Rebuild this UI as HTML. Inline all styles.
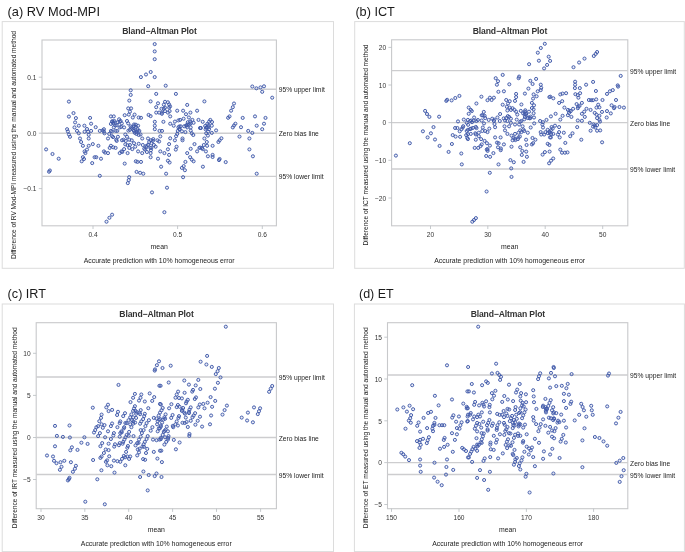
<!DOCTYPE html>
<html><head><meta charset="utf-8"><title>Bland-Altman Plots</title>
<style>
html,body{margin:0;padding:0;background:#fff;}
svg{display:block;font-family:"Liberation Sans", "NanumGothic", sans-serif;}
.pt{font-size:13.4px;fill:#1a1a1a;}
.bt{font-size:8.6px;font-weight:bold;fill:#333;text-anchor:middle;}
.sm{font-size:6.9px;fill:#222;}
.rl{font-size:6.7px;fill:#222;}
.yl{font-size:6.6px;fill:#222;}
.tk{font-size:6.6px;fill:#333;}
.fr{fill:#fff;stroke:#dcdcdc;stroke-width:1;}
.bx{fill:#fff;stroke:#c8c9cb;stroke-width:1.1;}
.ln{stroke:#cdcdcf;stroke-width:1.4;}
.tm{stroke:#b8bcc0;stroke-width:0.8;}
.p circle{fill:rgba(66,92,171,0.10);stroke:#405aaa;stroke-width:0.95;}
</style></head><body>
<svg width="685" height="552" viewBox="0 0 685 552">
<rect x="0" y="0" width="685" height="552" fill="#fff"/>

<g id="panel-a">
<text class="pt" x="7.6" y="15.6" textLength="92.4" lengthAdjust="spacingAndGlyphs">(a) RV Mod-MPI</text>
<rect class="fr" x="2.2" y="21.6" width="331.3" height="246.7"/>
<rect class="bx" x="42" y="40" width="234.4" height="185.8"/>
<text class="bt" x="159.5" y="34.3" textLength="74.5" lengthAdjust="spacing">Bland−Altman Plot</text>
<line class="ln" x1="42" y1="89.2" x2="276.4" y2="89.2"/>
<text class="rl" x="278.7" y="92.2">95% upper limit</text>
<line class="ln" x1="42" y1="133.2" x2="276.4" y2="133.2"/>
<text class="rl" x="278.7" y="136.2">Zero bias line</text>
<line class="ln" x1="42" y1="176.4" x2="276.4" y2="176.4"/>
<text class="rl" x="278.7" y="179.4">95% lower limit</text>
<line class="tm" x1="93" y1="225.8" x2="93" y2="229.0"/>
<text class="tk" text-anchor="middle" x="93" y="237.3">0.4</text>
<line class="tm" x1="177.6" y1="225.8" x2="177.6" y2="229.0"/>
<text class="tk" text-anchor="middle" x="177.6" y="237.3">0.5</text>
<line class="tm" x1="262.3" y1="225.8" x2="262.3" y2="229.0"/>
<text class="tk" text-anchor="middle" x="262.3" y="237.3">0.6</text>
<line class="tm" x1="38.8" y1="77.2" x2="42" y2="77.2"/>
<text class="tk" text-anchor="end" x="36.5" y="79.9">0.1</text>
<line class="tm" x1="38.8" y1="133.2" x2="42" y2="133.2"/>
<text class="tk" text-anchor="end" x="36.5" y="135.9">0.0</text>
<line class="tm" x1="38.8" y1="188.6" x2="42" y2="188.6"/>
<text class="tk" text-anchor="end" x="36.5" y="191.3">−0.1</text>
<text class="sm" text-anchor="middle" x="159.2" y="249.3">mean</text>
<text class="sm" text-anchor="middle" x="159.2" y="262.9">Accurate prediction with 10% homogeneous error</text>
<text class="yl" text-anchor="middle" transform="translate(15.9,145.0) rotate(-90)" textLength="228" lengthAdjust="spacing">Difference of RV Mod-MPI measured using the manual and automated method</text>
<g class="p">
<circle cx="68.9" cy="101.6" r="1.55"/>
<circle cx="73.5" cy="113.1" r="1.55"/>
<circle cx="68.9" cy="116.6" r="1.55"/>
<circle cx="75.9" cy="118.1" r="1.55"/>
<circle cx="90.1" cy="117.9" r="1.55"/>
<circle cx="75.1" cy="122.4" r="1.55"/>
<circle cx="91.1" cy="123.7" r="1.55"/>
<circle cx="78.8" cy="125.7" r="1.55"/>
<circle cx="74.5" cy="127.4" r="1.55"/>
<circle cx="84.4" cy="125.7" r="1.55"/>
<circle cx="95.7" cy="127.2" r="1.55"/>
<circle cx="67.1" cy="129.2" r="1.55"/>
<circle cx="87.0" cy="129.0" r="1.55"/>
<circle cx="67.9" cy="131.5" r="1.55"/>
<circle cx="77.0" cy="130.9" r="1.55"/>
<circle cx="91.1" cy="130.9" r="1.55"/>
<circle cx="84.6" cy="131.8" r="1.55"/>
<circle cx="88.1" cy="131.8" r="1.55"/>
<circle cx="78.8" cy="133.3" r="1.55"/>
<circle cx="68.9" cy="134.5" r="1.55"/>
<circle cx="70.0" cy="136.8" r="1.55"/>
<circle cx="88.7" cy="134.8" r="1.55"/>
<circle cx="80.0" cy="138.5" r="1.55"/>
<circle cx="88.7" cy="138.5" r="1.55"/>
<circle cx="81.1" cy="142.0" r="1.55"/>
<circle cx="82.9" cy="145.8" r="1.55"/>
<circle cx="92.8" cy="144.1" r="1.55"/>
<circle cx="88.7" cy="145.8" r="1.55"/>
<circle cx="98.4" cy="145.8" r="1.55"/>
<circle cx="87.0" cy="149.6" r="1.55"/>
<circle cx="84.6" cy="151.4" r="1.55"/>
<circle cx="85.4" cy="153.1" r="1.55"/>
<circle cx="82.9" cy="157.2" r="1.55"/>
<circle cx="84.0" cy="159.0" r="1.55"/>
<circle cx="81.7" cy="161.3" r="1.55"/>
<circle cx="46.1" cy="149.4" r="1.55"/>
<circle cx="52.5" cy="154.0" r="1.55"/>
<circle cx="58.7" cy="158.7" r="1.55"/>
<circle cx="94.6" cy="157.2" r="1.55"/>
<circle cx="96.3" cy="157.2" r="1.55"/>
<circle cx="101.0" cy="158.7" r="1.55"/>
<circle cx="92.2" cy="163.1" r="1.55"/>
<circle cx="99.8" cy="130.9" r="1.55"/>
<circle cx="102.7" cy="130.4" r="1.55"/>
<circle cx="103.9" cy="129.2" r="1.55"/>
<circle cx="103.9" cy="131.5" r="1.55"/>
<circle cx="104.5" cy="133.3" r="1.55"/>
<circle cx="110.9" cy="116.4" r="1.55"/>
<circle cx="113.8" cy="116.4" r="1.55"/>
<circle cx="112.1" cy="121.6" r="1.55"/>
<circle cx="114.4" cy="121.0" r="1.55"/>
<circle cx="110.9" cy="123.9" r="1.55"/>
<circle cx="113.2" cy="123.4" r="1.55"/>
<circle cx="119.1" cy="119.3" r="1.55"/>
<circle cx="119.7" cy="121.6" r="1.55"/>
<circle cx="116.7" cy="125.1" r="1.55"/>
<circle cx="119.7" cy="127.4" r="1.55"/>
<circle cx="113.8" cy="127.4" r="1.55"/>
<circle cx="110.9" cy="130.9" r="1.55"/>
<circle cx="112.1" cy="131.5" r="1.55"/>
<circle cx="115.6" cy="130.9" r="1.55"/>
<circle cx="117.3" cy="130.9" r="1.55"/>
<circle cx="109.2" cy="133.9" r="1.55"/>
<circle cx="112.1" cy="136.2" r="1.55"/>
<circle cx="108.0" cy="138.5" r="1.55"/>
<circle cx="117.9" cy="136.8" r="1.55"/>
<circle cx="116.2" cy="139.7" r="1.55"/>
<circle cx="116.7" cy="140.9" r="1.55"/>
<circle cx="110.9" cy="145.8" r="1.55"/>
<circle cx="113.2" cy="147.3" r="1.55"/>
<circle cx="115.6" cy="147.9" r="1.55"/>
<circle cx="109.7" cy="147.9" r="1.55"/>
<circle cx="103.9" cy="151.4" r="1.55"/>
<circle cx="105.1" cy="152.6" r="1.55"/>
<circle cx="108.0" cy="153.1" r="1.55"/>
<circle cx="119.7" cy="153.1" r="1.55"/>
<circle cx="121.4" cy="151.4" r="1.55"/>
<circle cx="122.0" cy="140.3" r="1.55"/>
<circle cx="129.3" cy="100.6" r="1.55"/>
<circle cx="150.6" cy="101.4" r="1.55"/>
<circle cx="158.0" cy="103.3" r="1.55"/>
<circle cx="165.0" cy="101.8" r="1.55"/>
<circle cx="167.9" cy="102.3" r="1.55"/>
<circle cx="163.8" cy="104.7" r="1.55"/>
<circle cx="169.1" cy="104.4" r="1.55"/>
<circle cx="156.2" cy="107.2" r="1.55"/>
<circle cx="161.5" cy="108.8" r="1.55"/>
<circle cx="165.0" cy="107.6" r="1.55"/>
<circle cx="169.1" cy="107.6" r="1.55"/>
<circle cx="187.2" cy="104.9" r="1.55"/>
<circle cx="177.2" cy="110.7" r="1.55"/>
<circle cx="183.1" cy="110.7" r="1.55"/>
<circle cx="197.1" cy="110.7" r="1.55"/>
<circle cx="128.2" cy="108.4" r="1.55"/>
<circle cx="131.1" cy="108.4" r="1.55"/>
<circle cx="129.9" cy="111.7" r="1.55"/>
<circle cx="156.2" cy="112.6" r="1.55"/>
<circle cx="159.1" cy="112.6" r="1.55"/>
<circle cx="162.0" cy="112.6" r="1.55"/>
<circle cx="165.0" cy="111.1" r="1.55"/>
<circle cx="167.9" cy="112.6" r="1.55"/>
<circle cx="169.6" cy="111.1" r="1.55"/>
<circle cx="170.2" cy="116.4" r="1.55"/>
<circle cx="124.7" cy="115.2" r="1.55"/>
<circle cx="128.8" cy="114.6" r="1.55"/>
<circle cx="134.6" cy="114.6" r="1.55"/>
<circle cx="132.8" cy="117.5" r="1.55"/>
<circle cx="138.7" cy="117.5" r="1.55"/>
<circle cx="141.0" cy="117.8" r="1.55"/>
<circle cx="148.6" cy="114.9" r="1.55"/>
<circle cx="150.6" cy="116.1" r="1.55"/>
<circle cx="186.0" cy="114.2" r="1.55"/>
<circle cx="190.4" cy="112.6" r="1.55"/>
<circle cx="188.9" cy="117.5" r="1.55"/>
<circle cx="183.6" cy="118.7" r="1.55"/>
<circle cx="180.1" cy="119.9" r="1.55"/>
<circle cx="178.4" cy="120.4" r="1.55"/>
<circle cx="174.9" cy="121.6" r="1.55"/>
<circle cx="163.4" cy="121.8" r="1.55"/>
<circle cx="154.8" cy="121.8" r="1.55"/>
<circle cx="170.2" cy="123.7" r="1.55"/>
<circle cx="173.7" cy="125.7" r="1.55"/>
<circle cx="154.8" cy="125.7" r="1.55"/>
<circle cx="154.8" cy="129.2" r="1.55"/>
<circle cx="159.5" cy="130.9" r="1.55"/>
<circle cx="162.0" cy="130.9" r="1.55"/>
<circle cx="192.4" cy="119.9" r="1.55"/>
<circle cx="190.1" cy="121.6" r="1.55"/>
<circle cx="190.7" cy="123.4" r="1.55"/>
<circle cx="193.6" cy="122.8" r="1.55"/>
<circle cx="187.7" cy="124.5" r="1.55"/>
<circle cx="187.2" cy="127.4" r="1.55"/>
<circle cx="190.7" cy="127.4" r="1.55"/>
<circle cx="184.2" cy="126.3" r="1.55"/>
<circle cx="180.7" cy="126.3" r="1.55"/>
<circle cx="178.4" cy="127.4" r="1.55"/>
<circle cx="179.6" cy="129.2" r="1.55"/>
<circle cx="177.8" cy="130.9" r="1.55"/>
<circle cx="181.9" cy="131.3" r="1.55"/>
<circle cx="185.4" cy="132.1" r="1.55"/>
<circle cx="190.7" cy="130.6" r="1.55"/>
<circle cx="191.8" cy="133.3" r="1.55"/>
<circle cx="193.3" cy="135.0" r="1.55"/>
<circle cx="177.2" cy="133.9" r="1.55"/>
<circle cx="176.1" cy="136.2" r="1.55"/>
<circle cx="174.9" cy="140.3" r="1.55"/>
<circle cx="182.5" cy="138.5" r="1.55"/>
<circle cx="182.5" cy="140.3" r="1.55"/>
<circle cx="170.2" cy="138.3" r="1.55"/>
<circle cx="160.3" cy="136.4" r="1.55"/>
<circle cx="159.1" cy="141.5" r="1.55"/>
<circle cx="169.1" cy="144.1" r="1.55"/>
<circle cx="176.6" cy="146.7" r="1.55"/>
<circle cx="175.8" cy="149.6" r="1.55"/>
<circle cx="167.9" cy="149.3" r="1.55"/>
<circle cx="160.3" cy="151.4" r="1.55"/>
<circle cx="164.4" cy="153.1" r="1.55"/>
<circle cx="169.1" cy="154.9" r="1.55"/>
<circle cx="158.0" cy="158.7" r="1.55"/>
<circle cx="167.9" cy="160.7" r="1.55"/>
<circle cx="169.6" cy="162.5" r="1.55"/>
<circle cx="194.5" cy="144.1" r="1.55"/>
<circle cx="190.7" cy="148.8" r="1.55"/>
<circle cx="187.2" cy="153.1" r="1.55"/>
<circle cx="190.1" cy="157.2" r="1.55"/>
<circle cx="191.8" cy="159.6" r="1.55"/>
<circle cx="193.6" cy="161.3" r="1.55"/>
<circle cx="185.4" cy="161.9" r="1.55"/>
<circle cx="197.1" cy="151.4" r="1.55"/>
<circle cx="199.4" cy="147.9" r="1.55"/>
<circle cx="200.0" cy="128.0" r="1.55"/>
<circle cx="198.5" cy="119.9" r="1.55"/>
<circle cx="120.6" cy="121.0" r="1.55"/>
<circle cx="121.8" cy="123.4" r="1.55"/>
<circle cx="121.2" cy="126.9" r="1.55"/>
<circle cx="124.1" cy="127.4" r="1.55"/>
<circle cx="127.0" cy="121.0" r="1.55"/>
<circle cx="128.2" cy="123.4" r="1.55"/>
<circle cx="130.5" cy="126.3" r="1.55"/>
<circle cx="132.3" cy="128.6" r="1.55"/>
<circle cx="129.9" cy="129.8" r="1.55"/>
<circle cx="134.0" cy="124.5" r="1.55"/>
<circle cx="135.8" cy="126.9" r="1.55"/>
<circle cx="138.1" cy="125.7" r="1.55"/>
<circle cx="137.5" cy="129.2" r="1.55"/>
<circle cx="139.3" cy="130.9" r="1.55"/>
<circle cx="136.4" cy="132.1" r="1.55"/>
<circle cx="134.0" cy="130.9" r="1.55"/>
<circle cx="125.3" cy="134.5" r="1.55"/>
<circle cx="127.0" cy="136.8" r="1.55"/>
<circle cx="123.5" cy="139.7" r="1.55"/>
<circle cx="125.8" cy="140.9" r="1.55"/>
<circle cx="129.3" cy="139.7" r="1.55"/>
<circle cx="131.7" cy="140.3" r="1.55"/>
<circle cx="125.3" cy="144.4" r="1.55"/>
<circle cx="129.9" cy="145.0" r="1.55"/>
<circle cx="134.0" cy="143.2" r="1.55"/>
<circle cx="138.7" cy="143.8" r="1.55"/>
<circle cx="135.2" cy="146.7" r="1.55"/>
<circle cx="132.3" cy="149.1" r="1.55"/>
<circle cx="129.3" cy="147.9" r="1.55"/>
<circle cx="124.1" cy="149.1" r="1.55"/>
<circle cx="127.6" cy="153.1" r="1.55"/>
<circle cx="138.1" cy="151.4" r="1.55"/>
<circle cx="142.2" cy="153.1" r="1.55"/>
<circle cx="138.7" cy="135.0" r="1.55"/>
<circle cx="142.2" cy="138.5" r="1.55"/>
<circle cx="142.8" cy="145.0" r="1.55"/>
<circle cx="148.0" cy="138.5" r="1.55"/>
<circle cx="150.9" cy="140.3" r="1.55"/>
<circle cx="153.3" cy="139.1" r="1.55"/>
<circle cx="149.2" cy="142.0" r="1.55"/>
<circle cx="151.5" cy="143.2" r="1.55"/>
<circle cx="148.0" cy="145.0" r="1.55"/>
<circle cx="153.9" cy="145.0" r="1.55"/>
<circle cx="146.3" cy="147.3" r="1.55"/>
<circle cx="150.4" cy="147.9" r="1.55"/>
<circle cx="155.6" cy="146.7" r="1.55"/>
<circle cx="145.1" cy="149.6" r="1.55"/>
<circle cx="150.9" cy="150.2" r="1.55"/>
<circle cx="146.9" cy="152.0" r="1.55"/>
<circle cx="150.6" cy="153.1" r="1.55"/>
<circle cx="150.6" cy="157.2" r="1.55"/>
<circle cx="157.4" cy="140.3" r="1.55"/>
<circle cx="135.8" cy="161.3" r="1.55"/>
<circle cx="137.5" cy="161.9" r="1.55"/>
<circle cx="141.0" cy="161.9" r="1.55"/>
<circle cx="124.7" cy="163.6" r="1.55"/>
<circle cx="136.4" cy="133.9" r="1.55"/>
<circle cx="122.3" cy="152.0" r="1.55"/>
<circle cx="204.4" cy="101.4" r="1.55"/>
<circle cx="234.0" cy="103.5" r="1.55"/>
<circle cx="232.8" cy="107.2" r="1.55"/>
<circle cx="231.1" cy="110.7" r="1.55"/>
<circle cx="229.5" cy="116.4" r="1.55"/>
<circle cx="228.1" cy="117.8" r="1.55"/>
<circle cx="242.7" cy="117.9" r="1.55"/>
<circle cx="255.0" cy="116.4" r="1.55"/>
<circle cx="265.5" cy="117.9" r="1.55"/>
<circle cx="264.0" cy="123.7" r="1.55"/>
<circle cx="256.7" cy="125.7" r="1.55"/>
<circle cx="262.2" cy="129.2" r="1.55"/>
<circle cx="235.4" cy="123.7" r="1.55"/>
<circle cx="234.0" cy="125.5" r="1.55"/>
<circle cx="232.8" cy="127.4" r="1.55"/>
<circle cx="241.0" cy="127.2" r="1.55"/>
<circle cx="248.2" cy="130.9" r="1.55"/>
<circle cx="252.3" cy="132.9" r="1.55"/>
<circle cx="239.5" cy="136.6" r="1.55"/>
<circle cx="249.4" cy="138.5" r="1.55"/>
<circle cx="249.4" cy="149.4" r="1.55"/>
<circle cx="252.9" cy="156.3" r="1.55"/>
<circle cx="210.3" cy="119.9" r="1.55"/>
<circle cx="209.1" cy="121.6" r="1.55"/>
<circle cx="212.0" cy="122.0" r="1.55"/>
<circle cx="207.3" cy="123.9" r="1.55"/>
<circle cx="208.5" cy="125.1" r="1.55"/>
<circle cx="211.8" cy="125.7" r="1.55"/>
<circle cx="206.8" cy="127.4" r="1.55"/>
<circle cx="205.6" cy="129.4" r="1.55"/>
<circle cx="209.1" cy="129.2" r="1.55"/>
<circle cx="202.7" cy="121.8" r="1.55"/>
<circle cx="200.9" cy="128.0" r="1.55"/>
<circle cx="216.1" cy="130.4" r="1.55"/>
<circle cx="211.8" cy="132.9" r="1.55"/>
<circle cx="206.2" cy="133.3" r="1.55"/>
<circle cx="207.9" cy="135.6" r="1.55"/>
<circle cx="204.4" cy="138.5" r="1.55"/>
<circle cx="206.8" cy="142.0" r="1.55"/>
<circle cx="203.8" cy="145.0" r="1.55"/>
<circle cx="207.1" cy="145.8" r="1.55"/>
<circle cx="212.6" cy="145.8" r="1.55"/>
<circle cx="200.3" cy="147.6" r="1.55"/>
<circle cx="202.7" cy="149.1" r="1.55"/>
<circle cx="205.9" cy="151.4" r="1.55"/>
<circle cx="207.9" cy="156.3" r="1.55"/>
<circle cx="212.6" cy="154.9" r="1.55"/>
<circle cx="212.6" cy="157.0" r="1.55"/>
<circle cx="221.4" cy="138.3" r="1.55"/>
<circle cx="219.6" cy="140.3" r="1.55"/>
<circle cx="218.4" cy="142.0" r="1.55"/>
<circle cx="219.6" cy="159.0" r="1.55"/>
<circle cx="219.0" cy="160.1" r="1.55"/>
<circle cx="225.7" cy="162.1" r="1.55"/>
<circle cx="154.7" cy="44.1" r="1.55"/>
<circle cx="154.7" cy="51.4" r="1.55"/>
<circle cx="154.7" cy="59.2" r="1.55"/>
<circle cx="150.7" cy="72.0" r="1.55"/>
<circle cx="146.0" cy="74.5" r="1.55"/>
<circle cx="140.9" cy="77.1" r="1.55"/>
<circle cx="154.7" cy="77.1" r="1.55"/>
<circle cx="148.2" cy="86.2" r="1.55"/>
<circle cx="165.7" cy="85.7" r="1.55"/>
<circle cx="130.7" cy="90.3" r="1.55"/>
<circle cx="130.7" cy="94.9" r="1.55"/>
<circle cx="156.2" cy="93.9" r="1.55"/>
<circle cx="175.9" cy="93.9" r="1.55"/>
<circle cx="252.3" cy="86.5" r="1.55"/>
<circle cx="256.4" cy="88.3" r="1.55"/>
<circle cx="260.5" cy="87.4" r="1.55"/>
<circle cx="264.0" cy="86.3" r="1.55"/>
<circle cx="262.2" cy="91.8" r="1.55"/>
<circle cx="272.2" cy="97.7" r="1.55"/>
<circle cx="49.9" cy="170.5" r="1.55"/>
<circle cx="49.0" cy="171.7" r="1.55"/>
<circle cx="99.8" cy="175.8" r="1.55"/>
<circle cx="136.6" cy="171.9" r="1.55"/>
<circle cx="140.1" cy="172.8" r="1.55"/>
<circle cx="143.3" cy="173.7" r="1.55"/>
<circle cx="129.2" cy="177.2" r="1.55"/>
<circle cx="128.7" cy="180.1" r="1.55"/>
<circle cx="127.8" cy="183.1" r="1.55"/>
<circle cx="152.0" cy="192.4" r="1.55"/>
<circle cx="112.1" cy="214.7" r="1.55"/>
<circle cx="109.4" cy="217.8" r="1.55"/>
<circle cx="106.5" cy="221.7" r="1.55"/>
<circle cx="161.1" cy="166.7" r="1.55"/>
<circle cx="166.1" cy="173.7" r="1.55"/>
<circle cx="167.0" cy="187.7" r="1.55"/>
<circle cx="164.4" cy="212.2" r="1.55"/>
<circle cx="183.1" cy="177.2" r="1.55"/>
<circle cx="184.9" cy="170.2" r="1.55"/>
<circle cx="181.9" cy="167.9" r="1.55"/>
<circle cx="183.7" cy="166.1" r="1.55"/>
<circle cx="202.9" cy="166.7" r="1.55"/>
<circle cx="256.7" cy="173.7" r="1.55"/>
<circle cx="134.7" cy="132.8" r="1.55"/>
<circle cx="187.8" cy="122.2" r="1.55"/>
<circle cx="140.5" cy="134.4" r="1.55"/>
<circle cx="202.0" cy="148.0" r="1.55"/>
<circle cx="208.5" cy="127.2" r="1.55"/>
<circle cx="163.8" cy="108.7" r="1.55"/>
<circle cx="152.9" cy="140.8" r="1.55"/>
<circle cx="133.4" cy="129.8" r="1.55"/>
<circle cx="115.3" cy="125.4" r="1.55"/>
<circle cx="113.1" cy="137.1" r="1.55"/>
<circle cx="146.5" cy="145.9" r="1.55"/>
<circle cx="134.0" cy="126.2" r="1.55"/>
<circle cx="179.3" cy="126.5" r="1.55"/>
<circle cx="117.8" cy="122.2" r="1.55"/>
<circle cx="179.5" cy="129.3" r="1.55"/>
<circle cx="170.1" cy="106.4" r="1.55"/>
<circle cx="186.2" cy="125.4" r="1.55"/>
<circle cx="208.1" cy="131.6" r="1.55"/>
<circle cx="131.3" cy="127.5" r="1.55"/>
<circle cx="137.7" cy="130.7" r="1.55"/>
<circle cx="112.4" cy="121.2" r="1.55"/>
<circle cx="161.9" cy="113.8" r="1.55"/>
<circle cx="128.4" cy="130.6" r="1.55"/>
<circle cx="135.8" cy="124.7" r="1.55"/>
<circle cx="186.5" cy="125.6" r="1.55"/>
<circle cx="205.2" cy="126.0" r="1.55"/>
<circle cx="127.6" cy="145.2" r="1.55"/>
<circle cx="151.4" cy="147.8" r="1.55"/>
<circle cx="206.1" cy="127.7" r="1.55"/>
<circle cx="189.6" cy="124.2" r="1.55"/>
<circle cx="144.2" cy="148.6" r="1.55"/>
<circle cx="113.5" cy="122.2" r="1.55"/>
</g>
</g>
<g id="panel-b">
<text class="pt" x="355.4" y="15.6" textLength="39.4" lengthAdjust="spacingAndGlyphs">(b) ICT</text>
<rect class="fr" x="354.7" y="21.6" width="329.6" height="246.7"/>
<rect class="bx" x="391.6" y="39.8" width="236.2" height="186.0"/>
<text class="bt" x="510.0" y="34.3" textLength="74.5" lengthAdjust="spacing">Bland−Altman Plot</text>
<line class="ln" x1="391.6" y1="70.6" x2="627.8" y2="70.6"/>
<text class="rl" x="630.1" y="73.6">95% upper limit</text>
<line class="ln" x1="391.6" y1="122.6" x2="627.8" y2="122.6"/>
<text class="rl" x="630.1" y="125.6">Zero bias line</text>
<line class="ln" x1="391.6" y1="169" x2="627.8" y2="169"/>
<text class="rl" x="630.1" y="172.0">95% lower limit</text>
<line class="tm" x1="430.5" y1="225.8" x2="430.5" y2="229.0"/>
<text class="tk" text-anchor="middle" x="430.5" y="237.3">20</text>
<line class="tm" x1="487.8" y1="225.8" x2="487.8" y2="229.0"/>
<text class="tk" text-anchor="middle" x="487.8" y="237.3">30</text>
<line class="tm" x1="545.2" y1="225.8" x2="545.2" y2="229.0"/>
<text class="tk" text-anchor="middle" x="545.2" y="237.3">40</text>
<line class="tm" x1="602.7" y1="225.8" x2="602.7" y2="229.0"/>
<text class="tk" text-anchor="middle" x="602.7" y="237.3">50</text>
<line class="tm" x1="388.4" y1="47.4" x2="391.6" y2="47.4"/>
<text class="tk" text-anchor="end" x="386.1" y="50.1">20</text>
<line class="tm" x1="388.4" y1="85" x2="391.6" y2="85"/>
<text class="tk" text-anchor="end" x="386.1" y="87.7">10</text>
<line class="tm" x1="388.4" y1="122.6" x2="391.6" y2="122.6"/>
<text class="tk" text-anchor="end" x="386.1" y="125.3">0</text>
<line class="tm" x1="388.4" y1="160.3" x2="391.6" y2="160.3"/>
<text class="tk" text-anchor="end" x="386.1" y="163.0">−10</text>
<line class="tm" x1="388.4" y1="198" x2="391.6" y2="198"/>
<text class="tk" text-anchor="end" x="386.1" y="200.7">−20</text>
<text class="sm" text-anchor="middle" x="509.7" y="249.3">mean</text>
<text class="sm" text-anchor="middle" x="509.7" y="262.9">Accurate prediction with 10% homogeneous error</text>
<text class="yl" text-anchor="middle" transform="translate(367.9,145.0) rotate(-90)" textLength="201" lengthAdjust="spacing">Difference of ICT measured using the manual and automated method</text>
<g class="p">
<circle cx="459.4" cy="95.9" r="1.55"/>
<circle cx="455.3" cy="98.0" r="1.55"/>
<circle cx="451.6" cy="100.4" r="1.55"/>
<circle cx="447.1" cy="99.8" r="1.55"/>
<circle cx="446.3" cy="100.9" r="1.55"/>
<circle cx="425.1" cy="110.9" r="1.55"/>
<circle cx="427.0" cy="114.0" r="1.55"/>
<circle cx="429.4" cy="116.9" r="1.55"/>
<circle cx="439.1" cy="116.7" r="1.55"/>
<circle cx="468.7" cy="107.6" r="1.55"/>
<circle cx="470.8" cy="109.9" r="1.55"/>
<circle cx="468.7" cy="113.8" r="1.55"/>
<circle cx="458.0" cy="121.4" r="1.55"/>
<circle cx="463.8" cy="119.6" r="1.55"/>
<circle cx="467.9" cy="119.9" r="1.55"/>
<circle cx="466.7" cy="122.8" r="1.55"/>
<circle cx="470.2" cy="121.0" r="1.55"/>
<circle cx="433.5" cy="127.1" r="1.55"/>
<circle cx="422.9" cy="131.3" r="1.55"/>
<circle cx="430.9" cy="133.3" r="1.55"/>
<circle cx="427.6" cy="137.4" r="1.55"/>
<circle cx="435.0" cy="139.5" r="1.55"/>
<circle cx="409.8" cy="143.2" r="1.55"/>
<circle cx="439.6" cy="145.9" r="1.55"/>
<circle cx="451.9" cy="144.0" r="1.55"/>
<circle cx="455.1" cy="128.0" r="1.55"/>
<circle cx="457.4" cy="128.0" r="1.55"/>
<circle cx="462.7" cy="127.5" r="1.55"/>
<circle cx="461.5" cy="129.2" r="1.55"/>
<circle cx="459.7" cy="131.3" r="1.55"/>
<circle cx="467.9" cy="129.8" r="1.55"/>
<circle cx="466.7" cy="131.0" r="1.55"/>
<circle cx="452.7" cy="135.1" r="1.55"/>
<circle cx="455.6" cy="136.6" r="1.55"/>
<circle cx="460.1" cy="136.8" r="1.55"/>
<circle cx="466.2" cy="135.1" r="1.55"/>
<circle cx="470.8" cy="133.9" r="1.55"/>
<circle cx="467.3" cy="138.0" r="1.55"/>
<circle cx="467.9" cy="139.1" r="1.55"/>
<circle cx="472.0" cy="122.2" r="1.55"/>
<circle cx="395.9" cy="155.6" r="1.55"/>
<circle cx="448.6" cy="151.9" r="1.55"/>
<circle cx="461.3" cy="153.5" r="1.55"/>
<circle cx="461.8" cy="164.4" r="1.55"/>
<circle cx="486.2" cy="156.0" r="1.55"/>
<circle cx="490.1" cy="156.8" r="1.55"/>
<circle cx="487.6" cy="150.9" r="1.55"/>
<circle cx="489.8" cy="172.8" r="1.55"/>
<circle cx="486.6" cy="191.5" r="1.55"/>
<circle cx="475.9" cy="218.1" r="1.55"/>
<circle cx="474.0" cy="220.0" r="1.55"/>
<circle cx="472.3" cy="221.7" r="1.55"/>
<circle cx="498.4" cy="91.8" r="1.55"/>
<circle cx="503.9" cy="91.3" r="1.55"/>
<circle cx="528.4" cy="88.6" r="1.55"/>
<circle cx="524.9" cy="93.6" r="1.55"/>
<circle cx="516.1" cy="93.9" r="1.55"/>
<circle cx="537.7" cy="91.3" r="1.55"/>
<circle cx="541.2" cy="87.8" r="1.55"/>
<circle cx="540.7" cy="90.1" r="1.55"/>
<circle cx="533.6" cy="94.4" r="1.55"/>
<circle cx="536.6" cy="96.3" r="1.55"/>
<circle cx="481.4" cy="96.7" r="1.55"/>
<circle cx="489.9" cy="97.7" r="1.55"/>
<circle cx="493.9" cy="97.7" r="1.55"/>
<circle cx="487.5" cy="100.2" r="1.55"/>
<circle cx="491.6" cy="100.0" r="1.55"/>
<circle cx="516.1" cy="97.1" r="1.55"/>
<circle cx="515.0" cy="100.9" r="1.55"/>
<circle cx="533.1" cy="98.6" r="1.55"/>
<circle cx="506.2" cy="100.0" r="1.55"/>
<circle cx="509.7" cy="101.2" r="1.55"/>
<circle cx="508.0" cy="103.5" r="1.55"/>
<circle cx="476.4" cy="103.5" r="1.55"/>
<circle cx="502.7" cy="104.7" r="1.55"/>
<circle cx="521.4" cy="104.5" r="1.55"/>
<circle cx="531.9" cy="102.9" r="1.55"/>
<circle cx="534.0" cy="105.3" r="1.55"/>
<circle cx="506.8" cy="106.8" r="1.55"/>
<circle cx="509.7" cy="107.6" r="1.55"/>
<circle cx="531.9" cy="108.0" r="1.55"/>
<circle cx="533.6" cy="109.4" r="1.55"/>
<circle cx="507.4" cy="110.5" r="1.55"/>
<circle cx="510.9" cy="109.9" r="1.55"/>
<circle cx="514.4" cy="109.9" r="1.55"/>
<circle cx="516.1" cy="111.7" r="1.55"/>
<circle cx="520.8" cy="110.9" r="1.55"/>
<circle cx="524.9" cy="111.7" r="1.55"/>
<circle cx="529.0" cy="111.7" r="1.55"/>
<circle cx="523.1" cy="113.4" r="1.55"/>
<circle cx="526.1" cy="114.0" r="1.55"/>
<circle cx="533.6" cy="113.2" r="1.55"/>
<circle cx="471.8" cy="111.1" r="1.55"/>
<circle cx="483.8" cy="111.9" r="1.55"/>
<circle cx="500.1" cy="114.0" r="1.55"/>
<circle cx="517.3" cy="114.6" r="1.55"/>
<circle cx="526.6" cy="115.8" r="1.55"/>
<circle cx="524.9" cy="116.9" r="1.55"/>
<circle cx="530.7" cy="116.6" r="1.55"/>
<circle cx="534.0" cy="117.5" r="1.55"/>
<circle cx="481.7" cy="115.2" r="1.55"/>
<circle cx="484.6" cy="115.8" r="1.55"/>
<circle cx="474.1" cy="117.5" r="1.55"/>
<circle cx="485.2" cy="118.1" r="1.55"/>
<circle cx="492.2" cy="118.7" r="1.55"/>
<circle cx="497.4" cy="117.5" r="1.55"/>
<circle cx="506.2" cy="118.1" r="1.55"/>
<circle cx="509.1" cy="116.9" r="1.55"/>
<circle cx="510.9" cy="118.7" r="1.55"/>
<circle cx="505.0" cy="120.5" r="1.55"/>
<circle cx="507.4" cy="121.0" r="1.55"/>
<circle cx="499.8" cy="121.0" r="1.55"/>
<circle cx="516.7" cy="119.6" r="1.55"/>
<circle cx="524.3" cy="119.3" r="1.55"/>
<circle cx="527.8" cy="118.1" r="1.55"/>
<circle cx="521.4" cy="121.0" r="1.55"/>
<circle cx="546.5" cy="119.9" r="1.55"/>
<circle cx="540.1" cy="121.0" r="1.55"/>
<circle cx="543.0" cy="122.2" r="1.55"/>
<circle cx="471.2" cy="120.5" r="1.55"/>
<circle cx="476.4" cy="121.0" r="1.55"/>
<circle cx="481.7" cy="120.5" r="1.55"/>
<circle cx="488.7" cy="119.9" r="1.55"/>
<circle cx="493.9" cy="121.0" r="1.55"/>
<circle cx="484.0" cy="123.4" r="1.55"/>
<circle cx="494.5" cy="124.0" r="1.55"/>
<circle cx="510.9" cy="122.8" r="1.55"/>
<circle cx="509.1" cy="126.3" r="1.55"/>
<circle cx="504.5" cy="126.3" r="1.55"/>
<circle cx="515.0" cy="124.5" r="1.55"/>
<circle cx="519.1" cy="124.5" r="1.55"/>
<circle cx="522.6" cy="126.3" r="1.55"/>
<circle cx="534.2" cy="123.4" r="1.55"/>
<circle cx="542.4" cy="124.5" r="1.55"/>
<circle cx="475.8" cy="126.9" r="1.55"/>
<circle cx="482.8" cy="127.5" r="1.55"/>
<circle cx="489.3" cy="128.6" r="1.55"/>
<circle cx="495.1" cy="127.2" r="1.55"/>
<circle cx="530.7" cy="127.5" r="1.55"/>
<circle cx="543.0" cy="127.5" r="1.55"/>
<circle cx="505.0" cy="130.4" r="1.55"/>
<circle cx="507.4" cy="133.9" r="1.55"/>
<circle cx="520.2" cy="130.4" r="1.55"/>
<circle cx="518.5" cy="132.7" r="1.55"/>
<circle cx="521.4" cy="132.1" r="1.55"/>
<circle cx="524.3" cy="131.0" r="1.55"/>
<circle cx="527.8" cy="132.7" r="1.55"/>
<circle cx="515.0" cy="133.9" r="1.55"/>
<circle cx="511.5" cy="135.6" r="1.55"/>
<circle cx="547.7" cy="129.8" r="1.55"/>
<circle cx="540.7" cy="132.1" r="1.55"/>
<circle cx="541.2" cy="134.5" r="1.55"/>
<circle cx="544.2" cy="134.5" r="1.55"/>
<circle cx="475.3" cy="133.3" r="1.55"/>
<circle cx="478.8" cy="132.7" r="1.55"/>
<circle cx="482.3" cy="131.0" r="1.55"/>
<circle cx="485.2" cy="131.0" r="1.55"/>
<circle cx="487.5" cy="132.1" r="1.55"/>
<circle cx="478.8" cy="136.2" r="1.55"/>
<circle cx="475.8" cy="139.7" r="1.55"/>
<circle cx="481.1" cy="139.1" r="1.55"/>
<circle cx="495.1" cy="137.4" r="1.55"/>
<circle cx="500.6" cy="137.4" r="1.55"/>
<circle cx="518.5" cy="137.4" r="1.55"/>
<circle cx="515.0" cy="138.6" r="1.55"/>
<circle cx="517.9" cy="139.1" r="1.55"/>
<circle cx="512.6" cy="140.3" r="1.55"/>
<circle cx="526.1" cy="139.7" r="1.55"/>
<circle cx="532.5" cy="138.0" r="1.55"/>
<circle cx="535.4" cy="139.7" r="1.55"/>
<circle cx="484.6" cy="140.9" r="1.55"/>
<circle cx="486.9" cy="143.2" r="1.55"/>
<circle cx="481.7" cy="144.4" r="1.55"/>
<circle cx="480.5" cy="146.1" r="1.55"/>
<circle cx="489.9" cy="145.6" r="1.55"/>
<circle cx="498.6" cy="143.2" r="1.55"/>
<circle cx="503.9" cy="144.4" r="1.55"/>
<circle cx="498.0" cy="147.3" r="1.55"/>
<circle cx="500.9" cy="148.5" r="1.55"/>
<circle cx="511.5" cy="146.7" r="1.55"/>
<circle cx="520.2" cy="147.3" r="1.55"/>
<circle cx="526.6" cy="145.0" r="1.55"/>
<circle cx="533.1" cy="143.2" r="1.55"/>
<circle cx="531.9" cy="144.4" r="1.55"/>
<circle cx="547.7" cy="143.8" r="1.55"/>
<circle cx="549.4" cy="145.0" r="1.55"/>
<circle cx="474.7" cy="147.9" r="1.55"/>
<circle cx="478.2" cy="147.9" r="1.55"/>
<circle cx="487.5" cy="149.1" r="1.55"/>
<circle cx="549.4" cy="97.1" r="1.55"/>
<circle cx="550.0" cy="137.4" r="1.55"/>
<circle cx="471.2" cy="128.6" r="1.55"/>
<circle cx="574.9" cy="88.1" r="1.55"/>
<circle cx="579.8" cy="88.1" r="1.55"/>
<circle cx="595.9" cy="91.0" r="1.55"/>
<circle cx="612.8" cy="90.1" r="1.55"/>
<circle cx="609.9" cy="91.3" r="1.55"/>
<circle cx="607.0" cy="93.9" r="1.55"/>
<circle cx="550.3" cy="96.7" r="1.55"/>
<circle cx="553.3" cy="98.3" r="1.55"/>
<circle cx="560.3" cy="94.4" r="1.55"/>
<circle cx="562.6" cy="93.6" r="1.55"/>
<circle cx="566.1" cy="93.2" r="1.55"/>
<circle cx="575.4" cy="94.2" r="1.55"/>
<circle cx="577.8" cy="95.1" r="1.55"/>
<circle cx="580.1" cy="93.2" r="1.55"/>
<circle cx="578.4" cy="97.7" r="1.55"/>
<circle cx="588.9" cy="100.0" r="1.55"/>
<circle cx="591.2" cy="100.2" r="1.55"/>
<circle cx="593.0" cy="100.2" r="1.55"/>
<circle cx="596.2" cy="99.4" r="1.55"/>
<circle cx="602.5" cy="100.0" r="1.55"/>
<circle cx="616.0" cy="100.0" r="1.55"/>
<circle cx="559.1" cy="102.9" r="1.55"/>
<circle cx="562.2" cy="101.2" r="1.55"/>
<circle cx="576.6" cy="104.1" r="1.55"/>
<circle cx="579.5" cy="105.9" r="1.55"/>
<circle cx="581.9" cy="102.9" r="1.55"/>
<circle cx="598.2" cy="104.7" r="1.55"/>
<circle cx="596.5" cy="107.6" r="1.55"/>
<circle cx="599.4" cy="107.3" r="1.55"/>
<circle cx="611.6" cy="105.3" r="1.55"/>
<circle cx="614.6" cy="107.0" r="1.55"/>
<circle cx="614.0" cy="108.2" r="1.55"/>
<circle cx="619.5" cy="107.0" r="1.55"/>
<circle cx="623.9" cy="107.6" r="1.55"/>
<circle cx="564.4" cy="107.6" r="1.55"/>
<circle cx="573.1" cy="108.8" r="1.55"/>
<circle cx="577.8" cy="108.2" r="1.55"/>
<circle cx="567.9" cy="109.9" r="1.55"/>
<circle cx="570.8" cy="111.1" r="1.55"/>
<circle cx="569.0" cy="112.9" r="1.55"/>
<circle cx="567.9" cy="115.2" r="1.55"/>
<circle cx="571.4" cy="116.9" r="1.55"/>
<circle cx="586.5" cy="108.8" r="1.55"/>
<circle cx="590.6" cy="109.9" r="1.55"/>
<circle cx="584.2" cy="111.7" r="1.55"/>
<circle cx="581.9" cy="113.8" r="1.55"/>
<circle cx="584.8" cy="116.9" r="1.55"/>
<circle cx="594.7" cy="112.9" r="1.55"/>
<circle cx="596.5" cy="114.6" r="1.55"/>
<circle cx="599.4" cy="115.8" r="1.55"/>
<circle cx="602.0" cy="111.9" r="1.55"/>
<circle cx="607.0" cy="111.1" r="1.55"/>
<circle cx="610.8" cy="113.4" r="1.55"/>
<circle cx="606.7" cy="117.5" r="1.55"/>
<circle cx="597.1" cy="118.1" r="1.55"/>
<circle cx="599.4" cy="119.9" r="1.55"/>
<circle cx="600.0" cy="121.6" r="1.55"/>
<circle cx="555.6" cy="113.8" r="1.55"/>
<circle cx="550.9" cy="116.4" r="1.55"/>
<circle cx="562.6" cy="115.8" r="1.55"/>
<circle cx="560.3" cy="119.6" r="1.55"/>
<circle cx="577.8" cy="120.5" r="1.55"/>
<circle cx="581.9" cy="120.8" r="1.55"/>
<circle cx="589.8" cy="122.8" r="1.55"/>
<circle cx="597.1" cy="125.1" r="1.55"/>
<circle cx="593.0" cy="126.6" r="1.55"/>
<circle cx="595.3" cy="127.5" r="1.55"/>
<circle cx="590.6" cy="130.7" r="1.55"/>
<circle cx="597.1" cy="130.7" r="1.55"/>
<circle cx="600.2" cy="130.4" r="1.55"/>
<circle cx="577.2" cy="127.1" r="1.55"/>
<circle cx="555.0" cy="125.7" r="1.55"/>
<circle cx="559.1" cy="127.1" r="1.55"/>
<circle cx="552.7" cy="128.6" r="1.55"/>
<circle cx="550.9" cy="130.4" r="1.55"/>
<circle cx="549.8" cy="132.7" r="1.55"/>
<circle cx="553.3" cy="133.9" r="1.55"/>
<circle cx="559.1" cy="132.1" r="1.55"/>
<circle cx="557.9" cy="134.5" r="1.55"/>
<circle cx="563.8" cy="132.7" r="1.55"/>
<circle cx="550.9" cy="137.4" r="1.55"/>
<circle cx="559.7" cy="137.4" r="1.55"/>
<circle cx="572.5" cy="133.3" r="1.55"/>
<circle cx="570.2" cy="136.2" r="1.55"/>
<circle cx="581.3" cy="139.7" r="1.55"/>
<circle cx="565.3" cy="142.9" r="1.55"/>
<circle cx="602.1" cy="142.3" r="1.55"/>
<circle cx="560.3" cy="149.6" r="1.55"/>
<circle cx="618.1" cy="86.6" r="1.55"/>
<circle cx="544.8" cy="43.8" r="1.55"/>
<circle cx="540.8" cy="48.0" r="1.55"/>
<circle cx="537.8" cy="52.7" r="1.55"/>
<circle cx="548.7" cy="56.7" r="1.55"/>
<circle cx="550.1" cy="60.9" r="1.55"/>
<circle cx="538.9" cy="60.7" r="1.55"/>
<circle cx="529.1" cy="64.2" r="1.55"/>
<circle cx="547.1" cy="64.9" r="1.55"/>
<circle cx="544.1" cy="68.4" r="1.55"/>
<circle cx="573.5" cy="67.2" r="1.55"/>
<circle cx="579.1" cy="62.5" r="1.55"/>
<circle cx="584.5" cy="58.6" r="1.55"/>
<circle cx="593.8" cy="56.0" r="1.55"/>
<circle cx="595.7" cy="53.9" r="1.55"/>
<circle cx="597.1" cy="52.0" r="1.55"/>
<circle cx="502.7" cy="74.9" r="1.55"/>
<circle cx="495.7" cy="78.2" r="1.55"/>
<circle cx="498.0" cy="81.2" r="1.55"/>
<circle cx="496.9" cy="84.7" r="1.55"/>
<circle cx="509.3" cy="84.3" r="1.55"/>
<circle cx="519.1" cy="76.6" r="1.55"/>
<circle cx="518.6" cy="78.2" r="1.55"/>
<circle cx="536.1" cy="78.9" r="1.55"/>
<circle cx="530.3" cy="80.8" r="1.55"/>
<circle cx="532.6" cy="84.0" r="1.55"/>
<circle cx="540.8" cy="84.7" r="1.55"/>
<circle cx="575.1" cy="81.7" r="1.55"/>
<circle cx="575.1" cy="84.7" r="1.55"/>
<circle cx="586.1" cy="84.7" r="1.55"/>
<circle cx="593.1" cy="81.9" r="1.55"/>
<circle cx="620.7" cy="75.9" r="1.55"/>
<circle cx="617.7" cy="85.4" r="1.55"/>
<circle cx="493.4" cy="153.1" r="1.55"/>
<circle cx="498.5" cy="164.4" r="1.55"/>
<circle cx="500.7" cy="150.2" r="1.55"/>
<circle cx="510.4" cy="160.1" r="1.55"/>
<circle cx="513.8" cy="162.2" r="1.55"/>
<circle cx="511.2" cy="168.4" r="1.55"/>
<circle cx="511.5" cy="176.9" r="1.55"/>
<circle cx="521.8" cy="154.9" r="1.55"/>
<circle cx="522.3" cy="150.9" r="1.55"/>
<circle cx="526.2" cy="151.6" r="1.55"/>
<circle cx="526.9" cy="156.8" r="1.55"/>
<circle cx="523.6" cy="161.9" r="1.55"/>
<circle cx="542.6" cy="154.6" r="1.55"/>
<circle cx="544.9" cy="152.1" r="1.55"/>
<circle cx="549.6" cy="151.6" r="1.55"/>
<circle cx="553.2" cy="158.5" r="1.55"/>
<circle cx="551.0" cy="160.7" r="1.55"/>
<circle cx="549.1" cy="163.3" r="1.55"/>
<circle cx="562.0" cy="152.7" r="1.55"/>
<circle cx="564.9" cy="152.7" r="1.55"/>
<circle cx="567.5" cy="152.4" r="1.55"/>
<circle cx="486.8" cy="149.5" r="1.55"/>
<circle cx="551.2" cy="134.2" r="1.55"/>
<circle cx="494.3" cy="119.7" r="1.55"/>
<circle cx="503.7" cy="118.4" r="1.55"/>
<circle cx="593.5" cy="124.4" r="1.55"/>
<circle cx="524.7" cy="114.2" r="1.55"/>
<circle cx="578.2" cy="106.6" r="1.55"/>
<circle cx="513.4" cy="137.9" r="1.55"/>
<circle cx="549.5" cy="131.5" r="1.55"/>
<circle cx="470.0" cy="129.1" r="1.55"/>
<circle cx="476.5" cy="128.1" r="1.55"/>
<circle cx="468.1" cy="124.8" r="1.55"/>
<circle cx="463.2" cy="126.2" r="1.55"/>
<circle cx="545.4" cy="132.2" r="1.55"/>
<circle cx="523.4" cy="129.6" r="1.55"/>
<circle cx="569.5" cy="110.7" r="1.55"/>
<circle cx="473.7" cy="120.7" r="1.55"/>
<circle cx="551.6" cy="127.0" r="1.55"/>
<circle cx="472.9" cy="127.9" r="1.55"/>
<circle cx="512.5" cy="108.2" r="1.55"/>
<circle cx="515.4" cy="140.1" r="1.55"/>
<circle cx="530.3" cy="118.1" r="1.55"/>
<circle cx="507.8" cy="116.1" r="1.55"/>
<circle cx="520.2" cy="121.7" r="1.55"/>
<circle cx="519.9" cy="136.5" r="1.55"/>
<circle cx="547.9" cy="133.2" r="1.55"/>
<circle cx="477.9" cy="120.0" r="1.55"/>
<circle cx="467.9" cy="134.2" r="1.55"/>
<circle cx="482.7" cy="115.4" r="1.55"/>
<circle cx="529.6" cy="118.3" r="1.55"/>
<circle cx="475.8" cy="134.4" r="1.55"/>
<circle cx="525.3" cy="110.3" r="1.55"/>
<circle cx="594.9" cy="125.5" r="1.55"/>
<circle cx="497.0" cy="142.6" r="1.55"/>
</g>
</g>
<g id="panel-c">
<text class="pt" x="7.6" y="298.2" textLength="38.4" lengthAdjust="spacingAndGlyphs">(c) IRT</text>
<rect class="fr" x="2.2" y="304" width="331.3" height="247.6"/>
<rect class="bx" x="36.2" y="322.7" width="240.2" height="186.0"/>
<text class="bt" x="156.6" y="316.7" textLength="74.5" lengthAdjust="spacing">Bland−Altman Plot</text>
<line class="ln" x1="36.2" y1="377" x2="276.4" y2="377"/>
<text class="rl" x="278.7" y="380.0">95% upper limit</text>
<line class="ln" x1="36.2" y1="437.5" x2="276.4" y2="437.5"/>
<text class="rl" x="278.7" y="440.5">Zero bias line</text>
<line class="ln" x1="36.2" y1="474.5" x2="276.4" y2="474.5"/>
<text class="rl" x="278.7" y="477.5">95% lower limit</text>
<line class="tm" x1="41" y1="508.7" x2="41" y2="511.9"/>
<text class="tk" text-anchor="middle" x="41" y="520.2">30</text>
<line class="tm" x1="84.8" y1="508.7" x2="84.8" y2="511.9"/>
<text class="tk" text-anchor="middle" x="84.8" y="520.2">35</text>
<line class="tm" x1="128.7" y1="508.7" x2="128.7" y2="511.9"/>
<text class="tk" text-anchor="middle" x="128.7" y="520.2">40</text>
<line class="tm" x1="172.6" y1="508.7" x2="172.6" y2="511.9"/>
<text class="tk" text-anchor="middle" x="172.6" y="520.2">45</text>
<line class="tm" x1="216.5" y1="508.7" x2="216.5" y2="511.9"/>
<text class="tk" text-anchor="middle" x="216.5" y="520.2">50</text>
<line class="tm" x1="260.6" y1="508.7" x2="260.6" y2="511.9"/>
<text class="tk" text-anchor="middle" x="260.6" y="520.2">55</text>
<line class="tm" x1="33.0" y1="353.3" x2="36.2" y2="353.3"/>
<text class="tk" text-anchor="end" x="30.7" y="356.0">10</text>
<line class="tm" x1="33.0" y1="395.4" x2="36.2" y2="395.4"/>
<text class="tk" text-anchor="end" x="30.7" y="398.1">5</text>
<line class="tm" x1="33.0" y1="437.5" x2="36.2" y2="437.5"/>
<text class="tk" text-anchor="end" x="30.7" y="440.2">0</text>
<line class="tm" x1="33.0" y1="479.5" x2="36.2" y2="479.5"/>
<text class="tk" text-anchor="end" x="30.7" y="482.2">−5</text>
<text class="sm" text-anchor="middle" x="156.3" y="532.2">mean</text>
<text class="sm" text-anchor="middle" x="156.3" y="545.8">Accurate prediction with 10% homogeneous error</text>
<text class="yl" text-anchor="middle" transform="translate(17.4,427.8) rotate(-90)" textLength="201" lengthAdjust="spacing">Difference of IRT measured using the manual and automated method</text>
<g class="p">
<circle cx="154.7" cy="370.6" r="1.55"/>
<circle cx="118.5" cy="384.9" r="1.55"/>
<circle cx="159.4" cy="385.8" r="1.55"/>
<circle cx="149.7" cy="393.4" r="1.55"/>
<circle cx="134.9" cy="393.9" r="1.55"/>
<circle cx="141.3" cy="394.5" r="1.55"/>
<circle cx="154.2" cy="397.1" r="1.55"/>
<circle cx="133.1" cy="397.8" r="1.55"/>
<circle cx="140.5" cy="397.8" r="1.55"/>
<circle cx="139.0" cy="400.6" r="1.55"/>
<circle cx="130.5" cy="402.1" r="1.55"/>
<circle cx="144.8" cy="401.5" r="1.55"/>
<circle cx="152.2" cy="400.9" r="1.55"/>
<circle cx="160.0" cy="403.9" r="1.55"/>
<circle cx="92.8" cy="407.7" r="1.55"/>
<circle cx="108.0" cy="404.7" r="1.55"/>
<circle cx="106.3" cy="407.4" r="1.55"/>
<circle cx="112.1" cy="409.9" r="1.55"/>
<circle cx="108.6" cy="411.1" r="1.55"/>
<circle cx="148.3" cy="408.2" r="1.55"/>
<circle cx="134.9" cy="406.2" r="1.55"/>
<circle cx="134.0" cy="408.5" r="1.55"/>
<circle cx="133.1" cy="410.9" r="1.55"/>
<circle cx="140.7" cy="410.1" r="1.55"/>
<circle cx="136.6" cy="412.0" r="1.55"/>
<circle cx="139.6" cy="412.6" r="1.55"/>
<circle cx="118.0" cy="411.8" r="1.55"/>
<circle cx="117.1" cy="415.0" r="1.55"/>
<circle cx="125.0" cy="413.2" r="1.55"/>
<circle cx="123.2" cy="416.1" r="1.55"/>
<circle cx="144.8" cy="413.8" r="1.55"/>
<circle cx="144.2" cy="416.1" r="1.55"/>
<circle cx="131.4" cy="414.4" r="1.55"/>
<circle cx="130.2" cy="417.3" r="1.55"/>
<circle cx="133.1" cy="417.3" r="1.55"/>
<circle cx="136.1" cy="417.9" r="1.55"/>
<circle cx="128.5" cy="420.2" r="1.55"/>
<circle cx="132.0" cy="420.2" r="1.55"/>
<circle cx="126.7" cy="423.1" r="1.55"/>
<circle cx="130.2" cy="424.3" r="1.55"/>
<circle cx="133.1" cy="423.7" r="1.55"/>
<circle cx="131.4" cy="427.2" r="1.55"/>
<circle cx="143.1" cy="419.1" r="1.55"/>
<circle cx="141.3" cy="421.4" r="1.55"/>
<circle cx="140.1" cy="423.7" r="1.55"/>
<circle cx="148.9" cy="420.2" r="1.55"/>
<circle cx="146.6" cy="423.1" r="1.55"/>
<circle cx="145.4" cy="426.1" r="1.55"/>
<circle cx="153.8" cy="417.9" r="1.55"/>
<circle cx="156.5" cy="418.5" r="1.55"/>
<circle cx="160.0" cy="412.6" r="1.55"/>
<circle cx="158.8" cy="415.5" r="1.55"/>
<circle cx="157.7" cy="421.4" r="1.55"/>
<circle cx="157.1" cy="424.3" r="1.55"/>
<circle cx="152.4" cy="427.2" r="1.55"/>
<circle cx="150.7" cy="430.7" r="1.55"/>
<circle cx="158.8" cy="428.4" r="1.55"/>
<circle cx="157.7" cy="431.3" r="1.55"/>
<circle cx="143.6" cy="430.1" r="1.55"/>
<circle cx="140.7" cy="430.1" r="1.55"/>
<circle cx="141.9" cy="433.1" r="1.55"/>
<circle cx="101.6" cy="414.6" r="1.55"/>
<circle cx="101.0" cy="417.9" r="1.55"/>
<circle cx="99.3" cy="421.2" r="1.55"/>
<circle cx="101.6" cy="424.3" r="1.55"/>
<circle cx="104.5" cy="425.1" r="1.55"/>
<circle cx="102.8" cy="427.8" r="1.55"/>
<circle cx="96.4" cy="427.2" r="1.55"/>
<circle cx="95.2" cy="430.1" r="1.55"/>
<circle cx="94.0" cy="432.5" r="1.55"/>
<circle cx="120.3" cy="421.4" r="1.55"/>
<circle cx="119.7" cy="423.1" r="1.55"/>
<circle cx="112.1" cy="423.5" r="1.55"/>
<circle cx="110.9" cy="426.1" r="1.55"/>
<circle cx="117.4" cy="427.2" r="1.55"/>
<circle cx="123.8" cy="428.4" r="1.55"/>
<circle cx="121.5" cy="431.3" r="1.55"/>
<circle cx="120.3" cy="433.1" r="1.55"/>
<circle cx="108.0" cy="431.3" r="1.55"/>
<circle cx="113.9" cy="433.1" r="1.55"/>
<circle cx="129.1" cy="431.9" r="1.55"/>
<circle cx="99.9" cy="433.1" r="1.55"/>
<circle cx="217.6" cy="371.2" r="1.55"/>
<circle cx="215.8" cy="374.1" r="1.55"/>
<circle cx="220.5" cy="377.4" r="1.55"/>
<circle cx="217.9" cy="382.8" r="1.55"/>
<circle cx="214.9" cy="388.7" r="1.55"/>
<circle cx="198.3" cy="379.9" r="1.55"/>
<circle cx="184.3" cy="380.5" r="1.55"/>
<circle cx="168.7" cy="382.5" r="1.55"/>
<circle cx="188.9" cy="384.6" r="1.55"/>
<circle cx="195.7" cy="385.4" r="1.55"/>
<circle cx="160.6" cy="385.8" r="1.55"/>
<circle cx="200.3" cy="389.0" r="1.55"/>
<circle cx="193.0" cy="389.9" r="1.55"/>
<circle cx="192.2" cy="391.6" r="1.55"/>
<circle cx="178.1" cy="391.6" r="1.55"/>
<circle cx="184.6" cy="392.8" r="1.55"/>
<circle cx="176.7" cy="394.5" r="1.55"/>
<circle cx="175.5" cy="397.7" r="1.55"/>
<circle cx="179.0" cy="398.0" r="1.55"/>
<circle cx="181.9" cy="398.4" r="1.55"/>
<circle cx="196.0" cy="397.4" r="1.55"/>
<circle cx="194.8" cy="399.0" r="1.55"/>
<circle cx="210.6" cy="397.1" r="1.55"/>
<circle cx="215.2" cy="400.9" r="1.55"/>
<circle cx="187.8" cy="399.8" r="1.55"/>
<circle cx="186.6" cy="401.5" r="1.55"/>
<circle cx="186.0" cy="403.3" r="1.55"/>
<circle cx="207.6" cy="402.7" r="1.55"/>
<circle cx="203.3" cy="403.9" r="1.55"/>
<circle cx="199.8" cy="404.5" r="1.55"/>
<circle cx="198.3" cy="407.4" r="1.55"/>
<circle cx="204.5" cy="408.3" r="1.55"/>
<circle cx="212.1" cy="406.8" r="1.55"/>
<circle cx="226.9" cy="405.6" r="1.55"/>
<circle cx="224.6" cy="410.1" r="1.55"/>
<circle cx="222.5" cy="414.6" r="1.55"/>
<circle cx="160.9" cy="404.5" r="1.55"/>
<circle cx="171.4" cy="404.2" r="1.55"/>
<circle cx="169.1" cy="408.3" r="1.55"/>
<circle cx="177.9" cy="405.0" r="1.55"/>
<circle cx="176.7" cy="407.1" r="1.55"/>
<circle cx="179.6" cy="406.8" r="1.55"/>
<circle cx="183.1" cy="408.0" r="1.55"/>
<circle cx="181.9" cy="410.9" r="1.55"/>
<circle cx="184.3" cy="412.6" r="1.55"/>
<circle cx="190.7" cy="407.4" r="1.55"/>
<circle cx="189.5" cy="409.7" r="1.55"/>
<circle cx="188.9" cy="411.8" r="1.55"/>
<circle cx="195.1" cy="413.2" r="1.55"/>
<circle cx="193.6" cy="415.5" r="1.55"/>
<circle cx="192.5" cy="417.3" r="1.55"/>
<circle cx="200.0" cy="416.7" r="1.55"/>
<circle cx="211.1" cy="415.5" r="1.55"/>
<circle cx="162.7" cy="408.0" r="1.55"/>
<circle cx="161.5" cy="410.3" r="1.55"/>
<circle cx="165.6" cy="414.4" r="1.55"/>
<circle cx="164.4" cy="417.3" r="1.55"/>
<circle cx="163.3" cy="419.6" r="1.55"/>
<circle cx="162.1" cy="422.6" r="1.55"/>
<circle cx="160.9" cy="425.5" r="1.55"/>
<circle cx="159.8" cy="428.4" r="1.55"/>
<circle cx="172.6" cy="415.0" r="1.55"/>
<circle cx="171.2" cy="417.9" r="1.55"/>
<circle cx="179.0" cy="416.1" r="1.55"/>
<circle cx="178.4" cy="417.9" r="1.55"/>
<circle cx="176.7" cy="421.4" r="1.55"/>
<circle cx="175.5" cy="424.3" r="1.55"/>
<circle cx="173.2" cy="427.2" r="1.55"/>
<circle cx="177.9" cy="425.5" r="1.55"/>
<circle cx="185.8" cy="417.6" r="1.55"/>
<circle cx="182.5" cy="422.8" r="1.55"/>
<circle cx="186.6" cy="422.0" r="1.55"/>
<circle cx="190.7" cy="420.8" r="1.55"/>
<circle cx="197.7" cy="420.8" r="1.55"/>
<circle cx="195.4" cy="424.7" r="1.55"/>
<circle cx="187.8" cy="427.0" r="1.55"/>
<circle cx="202.1" cy="426.6" r="1.55"/>
<circle cx="210.0" cy="424.3" r="1.55"/>
<circle cx="166.8" cy="426.6" r="1.55"/>
<circle cx="165.6" cy="429.6" r="1.55"/>
<circle cx="167.9" cy="431.3" r="1.55"/>
<circle cx="163.8" cy="431.9" r="1.55"/>
<circle cx="160.3" cy="419.1" r="1.55"/>
<circle cx="189.5" cy="434.0" r="1.55"/>
<circle cx="84.4" cy="437.3" r="1.55"/>
<circle cx="81.4" cy="442.7" r="1.55"/>
<circle cx="87.6" cy="443.9" r="1.55"/>
<circle cx="98.1" cy="436.1" r="1.55"/>
<circle cx="105.1" cy="437.3" r="1.55"/>
<circle cx="110.9" cy="439.0" r="1.55"/>
<circle cx="113.3" cy="435.5" r="1.55"/>
<circle cx="119.7" cy="436.7" r="1.55"/>
<circle cx="125.5" cy="437.3" r="1.55"/>
<circle cx="126.7" cy="434.9" r="1.55"/>
<circle cx="124.4" cy="439.6" r="1.55"/>
<circle cx="123.2" cy="441.9" r="1.55"/>
<circle cx="119.7" cy="443.1" r="1.55"/>
<circle cx="122.6" cy="443.7" r="1.55"/>
<circle cx="133.5" cy="436.1" r="1.55"/>
<circle cx="130.8" cy="441.9" r="1.55"/>
<circle cx="140.7" cy="436.7" r="1.55"/>
<circle cx="139.0" cy="439.6" r="1.55"/>
<circle cx="137.2" cy="443.1" r="1.55"/>
<circle cx="135.5" cy="445.4" r="1.55"/>
<circle cx="147.7" cy="436.1" r="1.55"/>
<circle cx="146.6" cy="439.0" r="1.55"/>
<circle cx="144.8" cy="441.9" r="1.55"/>
<circle cx="143.6" cy="444.3" r="1.55"/>
<circle cx="142.5" cy="446.6" r="1.55"/>
<circle cx="153.0" cy="439.6" r="1.55"/>
<circle cx="156.5" cy="440.2" r="1.55"/>
<circle cx="159.4" cy="439.6" r="1.55"/>
<circle cx="102.2" cy="443.1" r="1.55"/>
<circle cx="100.4" cy="446.2" r="1.55"/>
<circle cx="108.6" cy="443.7" r="1.55"/>
<circle cx="115.0" cy="444.3" r="1.55"/>
<circle cx="114.2" cy="446.6" r="1.55"/>
<circle cx="127.9" cy="446.0" r="1.55"/>
<circle cx="127.3" cy="447.8" r="1.55"/>
<circle cx="137.8" cy="449.5" r="1.55"/>
<circle cx="139.0" cy="452.4" r="1.55"/>
<circle cx="137.2" cy="455.4" r="1.55"/>
<circle cx="147.2" cy="448.9" r="1.55"/>
<circle cx="146.0" cy="453.0" r="1.55"/>
<circle cx="153.8" cy="451.9" r="1.55"/>
<circle cx="160.0" cy="450.7" r="1.55"/>
<circle cx="105.7" cy="449.5" r="1.55"/>
<circle cx="108.6" cy="450.1" r="1.55"/>
<circle cx="103.9" cy="453.0" r="1.55"/>
<circle cx="126.1" cy="451.9" r="1.55"/>
<circle cx="123.8" cy="455.9" r="1.55"/>
<circle cx="127.3" cy="456.5" r="1.55"/>
<circle cx="130.2" cy="456.5" r="1.55"/>
<circle cx="129.1" cy="458.9" r="1.55"/>
<circle cx="122.0" cy="458.9" r="1.55"/>
<circle cx="120.3" cy="461.8" r="1.55"/>
<circle cx="117.4" cy="461.2" r="1.55"/>
<circle cx="113.9" cy="460.6" r="1.55"/>
<circle cx="109.2" cy="456.3" r="1.55"/>
<circle cx="101.6" cy="456.5" r="1.55"/>
<circle cx="100.4" cy="457.9" r="1.55"/>
<circle cx="93.1" cy="460.0" r="1.55"/>
<circle cx="105.9" cy="461.8" r="1.55"/>
<circle cx="107.4" cy="465.3" r="1.55"/>
<circle cx="111.3" cy="466.2" r="1.55"/>
<circle cx="125.3" cy="465.3" r="1.55"/>
<circle cx="143.1" cy="459.1" r="1.55"/>
<circle cx="145.1" cy="459.8" r="1.55"/>
<circle cx="157.4" cy="458.6" r="1.55"/>
<circle cx="101.4" cy="470.3" r="1.55"/>
<circle cx="114.5" cy="472.6" r="1.55"/>
<circle cx="97.3" cy="479.3" r="1.55"/>
<circle cx="143.4" cy="471.5" r="1.55"/>
<circle cx="148.7" cy="475.0" r="1.55"/>
<circle cx="140.1" cy="477.0" r="1.55"/>
<circle cx="154.7" cy="476.1" r="1.55"/>
<circle cx="156.5" cy="473.5" r="1.55"/>
<circle cx="147.7" cy="490.4" r="1.55"/>
<circle cx="189.3" cy="435.9" r="1.55"/>
<circle cx="168.5" cy="436.1" r="1.55"/>
<circle cx="165.0" cy="437.3" r="1.55"/>
<circle cx="167.9" cy="439.6" r="1.55"/>
<circle cx="162.7" cy="434.9" r="1.55"/>
<circle cx="160.9" cy="437.8" r="1.55"/>
<circle cx="173.8" cy="439.9" r="1.55"/>
<circle cx="166.2" cy="441.9" r="1.55"/>
<circle cx="164.4" cy="444.6" r="1.55"/>
<circle cx="179.6" cy="442.5" r="1.55"/>
<circle cx="175.9" cy="449.3" r="1.55"/>
<circle cx="161.3" cy="450.7" r="1.55"/>
<circle cx="161.9" cy="462.1" r="1.55"/>
<circle cx="161.5" cy="477.0" r="1.55"/>
<circle cx="55.0" cy="425.9" r="1.55"/>
<circle cx="69.5" cy="425.5" r="1.55"/>
<circle cx="56.9" cy="435.9" r="1.55"/>
<circle cx="62.9" cy="436.9" r="1.55"/>
<circle cx="69.9" cy="437.5" r="1.55"/>
<circle cx="55.0" cy="446.3" r="1.55"/>
<circle cx="71.9" cy="447.3" r="1.55"/>
<circle cx="70.3" cy="450.3" r="1.55"/>
<circle cx="77.5" cy="449.9" r="1.55"/>
<circle cx="47.0" cy="455.5" r="1.55"/>
<circle cx="53.0" cy="456.5" r="1.55"/>
<circle cx="54.0" cy="460.8" r="1.55"/>
<circle cx="56.5" cy="463.2" r="1.55"/>
<circle cx="60.5" cy="462.2" r="1.55"/>
<circle cx="64.3" cy="460.8" r="1.55"/>
<circle cx="70.9" cy="462.2" r="1.55"/>
<circle cx="61.5" cy="466.8" r="1.55"/>
<circle cx="59.9" cy="469.8" r="1.55"/>
<circle cx="75.9" cy="465.8" r="1.55"/>
<circle cx="74.9" cy="468.8" r="1.55"/>
<circle cx="72.9" cy="471.8" r="1.55"/>
<circle cx="69.5" cy="477.8" r="1.55"/>
<circle cx="68.9" cy="479.2" r="1.55"/>
<circle cx="67.9" cy="480.4" r="1.55"/>
<circle cx="85.3" cy="501.7" r="1.55"/>
<circle cx="104.8" cy="504.3" r="1.55"/>
<circle cx="225.8" cy="326.7" r="1.55"/>
<circle cx="207.1" cy="355.9" r="1.55"/>
<circle cx="200.6" cy="361.7" r="1.55"/>
<circle cx="206.4" cy="364.5" r="1.55"/>
<circle cx="211.8" cy="366.9" r="1.55"/>
<circle cx="218.8" cy="368.0" r="1.55"/>
<circle cx="159.0" cy="361.3" r="1.55"/>
<circle cx="156.9" cy="365.2" r="1.55"/>
<circle cx="155.0" cy="369.4" r="1.55"/>
<circle cx="162.5" cy="368.0" r="1.55"/>
<circle cx="170.7" cy="365.7" r="1.55"/>
<circle cx="272.2" cy="386.0" r="1.55"/>
<circle cx="270.7" cy="388.7" r="1.55"/>
<circle cx="269.1" cy="391.8" r="1.55"/>
<circle cx="254.0" cy="407.4" r="1.55"/>
<circle cx="260.1" cy="408.3" r="1.55"/>
<circle cx="259.0" cy="411.2" r="1.55"/>
<circle cx="257.8" cy="414.1" r="1.55"/>
<circle cx="247.9" cy="412.6" r="1.55"/>
<circle cx="241.7" cy="417.6" r="1.55"/>
<circle cx="247.1" cy="420.5" r="1.55"/>
<circle cx="252.9" cy="422.3" r="1.55"/>
<circle cx="125.4" cy="423.0" r="1.55"/>
<circle cx="135.4" cy="410.7" r="1.55"/>
<circle cx="138.5" cy="442.9" r="1.55"/>
<circle cx="160.8" cy="426.7" r="1.55"/>
<circle cx="168.2" cy="438.0" r="1.55"/>
<circle cx="133.2" cy="421.5" r="1.55"/>
<circle cx="135.1" cy="422.5" r="1.55"/>
<circle cx="160.8" cy="439.2" r="1.55"/>
<circle cx="98.1" cy="426.2" r="1.55"/>
<circle cx="172.8" cy="425.9" r="1.55"/>
<circle cx="128.7" cy="435.7" r="1.55"/>
<circle cx="159.1" cy="419.7" r="1.55"/>
<circle cx="139.7" cy="448.7" r="1.55"/>
<circle cx="124.2" cy="427.2" r="1.55"/>
<circle cx="164.6" cy="430.9" r="1.55"/>
<circle cx="107.1" cy="460.4" r="1.55"/>
<circle cx="182.1" cy="409.7" r="1.55"/>
<circle cx="121.7" cy="432.4" r="1.55"/>
<circle cx="125.1" cy="457.3" r="1.55"/>
<circle cx="189.0" cy="413.1" r="1.55"/>
<circle cx="185.0" cy="413.7" r="1.55"/>
<circle cx="140.1" cy="414.2" r="1.55"/>
<circle cx="118.9" cy="445.2" r="1.55"/>
<circle cx="136.1" cy="413.8" r="1.55"/>
<circle cx="165.1" cy="418.8" r="1.55"/>
<circle cx="144.0" cy="446.8" r="1.55"/>
<circle cx="184.7" cy="423.0" r="1.55"/>
</g>
</g>
<g id="panel-d">
<text class="pt" x="359" y="298.2" textLength="34.7" lengthAdjust="spacingAndGlyphs">(d) ET</text>
<rect class="fr" x="354.4" y="304" width="330.0" height="247.6"/>
<rect class="bx" x="387.5" y="322.7" width="240.3" height="186.0"/>
<text class="bt" x="507.9" y="316.7" textLength="74.5" lengthAdjust="spacing">Bland−Altman Plot</text>
<line class="ln" x1="387.5" y1="375" x2="627.8" y2="375"/>
<text class="rl" x="630.1" y="378.0">95% upper limit</text>
<line class="ln" x1="387.5" y1="462.6" x2="627.8" y2="462.6"/>
<text class="rl" x="630.1" y="465.6">Zero bias line</text>
<line class="ln" x1="387.5" y1="474.5" x2="627.8" y2="474.5"/>
<text class="rl" x="630.1" y="477.5">95% lower limit</text>
<line class="tm" x1="391.5" y1="508.7" x2="391.5" y2="511.9"/>
<text class="tk" text-anchor="middle" x="391.5" y="520.2">150</text>
<line class="tm" x1="459" y1="508.7" x2="459" y2="511.9"/>
<text class="tk" text-anchor="middle" x="459" y="520.2">160</text>
<line class="tm" x1="526.4" y1="508.7" x2="526.4" y2="511.9"/>
<text class="tk" text-anchor="middle" x="526.4" y="520.2">170</text>
<line class="tm" x1="593.6" y1="508.7" x2="593.6" y2="511.9"/>
<text class="tk" text-anchor="middle" x="593.6" y="520.2">180</text>
<line class="tm" x1="384.3" y1="337.2" x2="387.5" y2="337.2"/>
<text class="tk" text-anchor="end" x="382.0" y="339.9">15</text>
<line class="tm" x1="384.3" y1="379" x2="387.5" y2="379"/>
<text class="tk" text-anchor="end" x="382.0" y="381.7">10</text>
<line class="tm" x1="384.3" y1="420.8" x2="387.5" y2="420.8"/>
<text class="tk" text-anchor="end" x="382.0" y="423.5">5</text>
<line class="tm" x1="384.3" y1="462.6" x2="387.5" y2="462.6"/>
<text class="tk" text-anchor="end" x="382.0" y="465.3">0</text>
<line class="tm" x1="384.3" y1="504.5" x2="387.5" y2="504.5"/>
<text class="tk" text-anchor="end" x="382.0" y="507.2">−5</text>
<text class="sm" text-anchor="middle" x="507.6" y="532.2">mean</text>
<text class="sm" text-anchor="middle" x="507.6" y="545.8">Accurate prediction with 10% homogeneous error</text>
<text class="yl" text-anchor="middle" transform="translate(367.9,427.8) rotate(-90)" textLength="201" lengthAdjust="spacing">Difference of ET measured using the manual and automated method</text>
<g class="p">
<circle cx="412.2" cy="385.2" r="1.55"/>
<circle cx="434.9" cy="395.8" r="1.55"/>
<circle cx="452.0" cy="399.5" r="1.55"/>
<circle cx="463.3" cy="403.6" r="1.55"/>
<circle cx="467.4" cy="391.4" r="1.55"/>
<circle cx="438.6" cy="405.4" r="1.55"/>
<circle cx="409.6" cy="405.7" r="1.55"/>
<circle cx="403.4" cy="407.4" r="1.55"/>
<circle cx="397.3" cy="409.5" r="1.55"/>
<circle cx="413.1" cy="409.2" r="1.55"/>
<circle cx="406.9" cy="411.6" r="1.55"/>
<circle cx="431.0" cy="411.8" r="1.55"/>
<circle cx="428.1" cy="413.0" r="1.55"/>
<circle cx="411.1" cy="415.1" r="1.55"/>
<circle cx="423.6" cy="417.9" r="1.55"/>
<circle cx="435.5" cy="417.9" r="1.55"/>
<circle cx="453.4" cy="415.3" r="1.55"/>
<circle cx="452.2" cy="417.6" r="1.55"/>
<circle cx="458.9" cy="416.5" r="1.55"/>
<circle cx="410.2" cy="418.2" r="1.55"/>
<circle cx="408.8" cy="420.6" r="1.55"/>
<circle cx="410.8" cy="422.7" r="1.55"/>
<circle cx="418.6" cy="422.5" r="1.55"/>
<circle cx="417.2" cy="425.8" r="1.55"/>
<circle cx="434.4" cy="422.9" r="1.55"/>
<circle cx="433.0" cy="425.8" r="1.55"/>
<circle cx="439.4" cy="425.2" r="1.55"/>
<circle cx="442.0" cy="425.2" r="1.55"/>
<circle cx="444.3" cy="425.2" r="1.55"/>
<circle cx="456.1" cy="421.7" r="1.55"/>
<circle cx="461.6" cy="422.3" r="1.55"/>
<circle cx="460.4" cy="425.2" r="1.55"/>
<circle cx="456.9" cy="428.1" r="1.55"/>
<circle cx="459.5" cy="428.7" r="1.55"/>
<circle cx="466.8" cy="408.3" r="1.55"/>
<circle cx="467.2" cy="421.5" r="1.55"/>
<circle cx="405.5" cy="428.7" r="1.55"/>
<circle cx="427.1" cy="428.1" r="1.55"/>
<circle cx="432.4" cy="428.7" r="1.55"/>
<circle cx="420.1" cy="431.6" r="1.55"/>
<circle cx="468.0" cy="414.7" r="1.55"/>
<circle cx="491.9" cy="373.5" r="1.55"/>
<circle cx="497.5" cy="372.9" r="1.55"/>
<circle cx="499.3" cy="375.0" r="1.55"/>
<circle cx="501.0" cy="376.8" r="1.55"/>
<circle cx="500.1" cy="379.9" r="1.55"/>
<circle cx="540.2" cy="373.3" r="1.55"/>
<circle cx="539.0" cy="376.2" r="1.55"/>
<circle cx="538.1" cy="379.1" r="1.55"/>
<circle cx="486.1" cy="381.4" r="1.55"/>
<circle cx="487.8" cy="382.9" r="1.55"/>
<circle cx="471.8" cy="384.0" r="1.55"/>
<circle cx="482.1" cy="385.2" r="1.55"/>
<circle cx="509.0" cy="384.7" r="1.55"/>
<circle cx="519.7" cy="384.0" r="1.55"/>
<circle cx="468.9" cy="391.4" r="1.55"/>
<circle cx="473.9" cy="392.5" r="1.55"/>
<circle cx="495.4" cy="390.8" r="1.55"/>
<circle cx="491.9" cy="393.1" r="1.55"/>
<circle cx="494.0" cy="395.7" r="1.55"/>
<circle cx="492.3" cy="399.3" r="1.55"/>
<circle cx="517.2" cy="389.6" r="1.55"/>
<circle cx="516.0" cy="392.5" r="1.55"/>
<circle cx="521.1" cy="393.1" r="1.55"/>
<circle cx="520.3" cy="396.4" r="1.55"/>
<circle cx="525.9" cy="394.3" r="1.55"/>
<circle cx="533.2" cy="390.2" r="1.55"/>
<circle cx="533.7" cy="396.4" r="1.55"/>
<circle cx="504.3" cy="396.0" r="1.55"/>
<circle cx="507.8" cy="399.5" r="1.55"/>
<circle cx="502.2" cy="401.9" r="1.55"/>
<circle cx="513.1" cy="401.1" r="1.55"/>
<circle cx="520.7" cy="400.7" r="1.55"/>
<circle cx="522.6" cy="402.8" r="1.55"/>
<circle cx="526.1" cy="402.2" r="1.55"/>
<circle cx="534.0" cy="402.2" r="1.55"/>
<circle cx="545.4" cy="398.9" r="1.55"/>
<circle cx="543.1" cy="405.7" r="1.55"/>
<circle cx="536.4" cy="408.9" r="1.55"/>
<circle cx="475.1" cy="401.9" r="1.55"/>
<circle cx="474.2" cy="404.8" r="1.55"/>
<circle cx="479.1" cy="405.4" r="1.55"/>
<circle cx="482.4" cy="402.8" r="1.55"/>
<circle cx="486.1" cy="401.3" r="1.55"/>
<circle cx="484.1" cy="406.5" r="1.55"/>
<circle cx="489.7" cy="404.8" r="1.55"/>
<circle cx="489.4" cy="407.1" r="1.55"/>
<circle cx="489.9" cy="412.4" r="1.55"/>
<circle cx="467.8" cy="408.3" r="1.55"/>
<circle cx="470.7" cy="413.0" r="1.55"/>
<circle cx="470.1" cy="414.7" r="1.55"/>
<circle cx="481.8" cy="412.4" r="1.55"/>
<circle cx="478.3" cy="414.7" r="1.55"/>
<circle cx="474.2" cy="416.5" r="1.55"/>
<circle cx="477.1" cy="417.1" r="1.55"/>
<circle cx="480.0" cy="416.5" r="1.55"/>
<circle cx="467.8" cy="421.1" r="1.55"/>
<circle cx="473.0" cy="419.4" r="1.55"/>
<circle cx="497.2" cy="413.9" r="1.55"/>
<circle cx="502.2" cy="414.7" r="1.55"/>
<circle cx="503.6" cy="411.0" r="1.55"/>
<circle cx="507.5" cy="408.9" r="1.55"/>
<circle cx="509.2" cy="409.5" r="1.55"/>
<circle cx="506.3" cy="413.5" r="1.55"/>
<circle cx="507.5" cy="415.9" r="1.55"/>
<circle cx="504.0" cy="417.1" r="1.55"/>
<circle cx="515.6" cy="407.1" r="1.55"/>
<circle cx="515.1" cy="410.0" r="1.55"/>
<circle cx="520.3" cy="408.3" r="1.55"/>
<circle cx="522.1" cy="405.4" r="1.55"/>
<circle cx="519.1" cy="413.0" r="1.55"/>
<circle cx="516.2" cy="414.7" r="1.55"/>
<circle cx="512.1" cy="415.9" r="1.55"/>
<circle cx="511.0" cy="418.2" r="1.55"/>
<circle cx="509.8" cy="421.1" r="1.55"/>
<circle cx="513.9" cy="420.0" r="1.55"/>
<circle cx="516.8" cy="418.8" r="1.55"/>
<circle cx="515.1" cy="422.3" r="1.55"/>
<circle cx="513.3" cy="425.2" r="1.55"/>
<circle cx="512.7" cy="428.1" r="1.55"/>
<circle cx="525.6" cy="409.5" r="1.55"/>
<circle cx="524.4" cy="412.4" r="1.55"/>
<circle cx="523.2" cy="415.3" r="1.55"/>
<circle cx="522.1" cy="418.2" r="1.55"/>
<circle cx="533.2" cy="417.1" r="1.55"/>
<circle cx="533.7" cy="420.6" r="1.55"/>
<circle cx="536.1" cy="424.1" r="1.55"/>
<circle cx="543.1" cy="419.4" r="1.55"/>
<circle cx="546.0" cy="412.4" r="1.55"/>
<circle cx="540.7" cy="424.1" r="1.55"/>
<circle cx="539.6" cy="427.6" r="1.55"/>
<circle cx="545.4" cy="425.8" r="1.55"/>
<circle cx="483.2" cy="421.7" r="1.55"/>
<circle cx="477.1" cy="422.9" r="1.55"/>
<circle cx="475.9" cy="425.8" r="1.55"/>
<circle cx="474.8" cy="428.7" r="1.55"/>
<circle cx="481.2" cy="427.6" r="1.55"/>
<circle cx="489.4" cy="420.0" r="1.55"/>
<circle cx="488.2" cy="422.9" r="1.55"/>
<circle cx="487.0" cy="425.2" r="1.55"/>
<circle cx="487.6" cy="429.3" r="1.55"/>
<circle cx="492.9" cy="423.5" r="1.55"/>
<circle cx="491.9" cy="425.8" r="1.55"/>
<circle cx="499.3" cy="422.3" r="1.55"/>
<circle cx="497.5" cy="425.2" r="1.55"/>
<circle cx="496.9" cy="428.1" r="1.55"/>
<circle cx="504.0" cy="422.9" r="1.55"/>
<circle cx="507.5" cy="427.0" r="1.55"/>
<circle cx="506.3" cy="429.3" r="1.55"/>
<circle cx="519.1" cy="423.5" r="1.55"/>
<circle cx="518.6" cy="426.4" r="1.55"/>
<circle cx="525.0" cy="424.6" r="1.55"/>
<circle cx="523.2" cy="427.6" r="1.55"/>
<circle cx="546.0" cy="408.9" r="1.55"/>
<circle cx="551.0" cy="372.9" r="1.55"/>
<circle cx="555.0" cy="376.3" r="1.55"/>
<circle cx="548.9" cy="378.4" r="1.55"/>
<circle cx="571.6" cy="374.1" r="1.55"/>
<circle cx="609.0" cy="373.5" r="1.55"/>
<circle cx="608.0" cy="375.6" r="1.55"/>
<circle cx="550.1" cy="387.6" r="1.55"/>
<circle cx="556.3" cy="386.1" r="1.55"/>
<circle cx="561.8" cy="385.8" r="1.55"/>
<circle cx="567.7" cy="383.9" r="1.55"/>
<circle cx="566.4" cy="388.2" r="1.55"/>
<circle cx="563.9" cy="393.8" r="1.55"/>
<circle cx="568.9" cy="394.7" r="1.55"/>
<circle cx="550.7" cy="400.1" r="1.55"/>
<circle cx="563.9" cy="401.1" r="1.55"/>
<circle cx="571.2" cy="401.7" r="1.55"/>
<circle cx="570.4" cy="403.9" r="1.55"/>
<circle cx="581.2" cy="403.8" r="1.55"/>
<circle cx="582.6" cy="407.0" r="1.55"/>
<circle cx="583.9" cy="410.3" r="1.55"/>
<circle cx="591.2" cy="405.8" r="1.55"/>
<circle cx="591.8" cy="410.3" r="1.55"/>
<circle cx="592.7" cy="414.8" r="1.55"/>
<circle cx="607.2" cy="406.4" r="1.55"/>
<circle cx="620.6" cy="411.9" r="1.55"/>
<circle cx="618.4" cy="417.7" r="1.55"/>
<circle cx="616.0" cy="423.4" r="1.55"/>
<circle cx="566.1" cy="407.9" r="1.55"/>
<circle cx="579.2" cy="414.8" r="1.55"/>
<circle cx="586.3" cy="416.7" r="1.55"/>
<circle cx="574.7" cy="420.4" r="1.55"/>
<circle cx="584.5" cy="428.3" r="1.55"/>
<circle cx="566.1" cy="427.5" r="1.55"/>
<circle cx="563.9" cy="420.7" r="1.55"/>
<circle cx="561.2" cy="414.6" r="1.55"/>
<circle cx="556.3" cy="413.1" r="1.55"/>
<circle cx="553.2" cy="407.2" r="1.55"/>
<circle cx="549.5" cy="402.9" r="1.55"/>
<circle cx="548.3" cy="406.0" r="1.55"/>
<circle cx="547.1" cy="409.1" r="1.55"/>
<circle cx="545.8" cy="410.9" r="1.55"/>
<circle cx="552.0" cy="410.3" r="1.55"/>
<circle cx="553.2" cy="413.4" r="1.55"/>
<circle cx="548.9" cy="417.7" r="1.55"/>
<circle cx="553.8" cy="418.3" r="1.55"/>
<circle cx="553.2" cy="420.1" r="1.55"/>
<circle cx="558.1" cy="420.7" r="1.55"/>
<circle cx="557.5" cy="422.6" r="1.55"/>
<circle cx="550.1" cy="426.9" r="1.55"/>
<circle cx="555.6" cy="428.1" r="1.55"/>
<circle cx="552.0" cy="430.5" r="1.55"/>
<circle cx="553.8" cy="368.0" r="1.55"/>
<circle cx="452.0" cy="433.2" r="1.55"/>
<circle cx="456.9" cy="434.3" r="1.55"/>
<circle cx="428.9" cy="437.2" r="1.55"/>
<circle cx="427.7" cy="440.2" r="1.55"/>
<circle cx="426.8" cy="443.1" r="1.55"/>
<circle cx="423.0" cy="438.8" r="1.55"/>
<circle cx="420.1" cy="439.9" r="1.55"/>
<circle cx="417.0" cy="441.1" r="1.55"/>
<circle cx="419.5" cy="442.3" r="1.55"/>
<circle cx="420.7" cy="444.8" r="1.55"/>
<circle cx="419.5" cy="447.9" r="1.55"/>
<circle cx="444.6" cy="437.9" r="1.55"/>
<circle cx="443.8" cy="439.9" r="1.55"/>
<circle cx="454.9" cy="439.9" r="1.55"/>
<circle cx="447.6" cy="444.8" r="1.55"/>
<circle cx="444.1" cy="446.9" r="1.55"/>
<circle cx="440.0" cy="448.7" r="1.55"/>
<circle cx="452.8" cy="451.8" r="1.55"/>
<circle cx="462.2" cy="447.9" r="1.55"/>
<circle cx="463.9" cy="449.3" r="1.55"/>
<circle cx="466.0" cy="451.0" r="1.55"/>
<circle cx="468.0" cy="457.4" r="1.55"/>
<circle cx="401.4" cy="452.8" r="1.55"/>
<circle cx="403.2" cy="454.3" r="1.55"/>
<circle cx="405.2" cy="456.6" r="1.55"/>
<circle cx="409.0" cy="460.1" r="1.55"/>
<circle cx="420.1" cy="459.5" r="1.55"/>
<circle cx="420.1" cy="465.6" r="1.55"/>
<circle cx="420.7" cy="471.8" r="1.55"/>
<circle cx="434.5" cy="462.7" r="1.55"/>
<circle cx="447.0" cy="459.5" r="1.55"/>
<circle cx="446.4" cy="467.0" r="1.55"/>
<circle cx="453.2" cy="469.9" r="1.55"/>
<circle cx="446.0" cy="474.6" r="1.55"/>
<circle cx="434.1" cy="477.6" r="1.55"/>
<circle cx="437.6" cy="481.7" r="1.55"/>
<circle cx="441.7" cy="485.2" r="1.55"/>
<circle cx="433.0" cy="431.2" r="1.55"/>
<circle cx="483.8" cy="433.5" r="1.55"/>
<circle cx="482.9" cy="436.4" r="1.55"/>
<circle cx="481.8" cy="439.3" r="1.55"/>
<circle cx="480.6" cy="442.3" r="1.55"/>
<circle cx="478.8" cy="444.9" r="1.55"/>
<circle cx="476.5" cy="438.2" r="1.55"/>
<circle cx="477.1" cy="444.6" r="1.55"/>
<circle cx="473.6" cy="446.9" r="1.55"/>
<circle cx="472.4" cy="449.3" r="1.55"/>
<circle cx="471.3" cy="451.6" r="1.55"/>
<circle cx="470.1" cy="453.9" r="1.55"/>
<circle cx="468.9" cy="457.4" r="1.55"/>
<circle cx="475.3" cy="448.7" r="1.55"/>
<circle cx="477.1" cy="450.8" r="1.55"/>
<circle cx="493.8" cy="435.8" r="1.55"/>
<circle cx="499.9" cy="434.3" r="1.55"/>
<circle cx="504.3" cy="434.9" r="1.55"/>
<circle cx="510.4" cy="433.5" r="1.55"/>
<circle cx="515.1" cy="434.7" r="1.55"/>
<circle cx="518.0" cy="433.5" r="1.55"/>
<circle cx="520.3" cy="435.8" r="1.55"/>
<circle cx="526.7" cy="434.3" r="1.55"/>
<circle cx="513.9" cy="437.9" r="1.55"/>
<circle cx="496.9" cy="439.7" r="1.55"/>
<circle cx="496.0" cy="442.6" r="1.55"/>
<circle cx="490.5" cy="442.6" r="1.55"/>
<circle cx="490.3" cy="444.6" r="1.55"/>
<circle cx="490.8" cy="449.3" r="1.55"/>
<circle cx="493.7" cy="449.9" r="1.55"/>
<circle cx="508.0" cy="439.3" r="1.55"/>
<circle cx="506.9" cy="441.7" r="1.55"/>
<circle cx="505.7" cy="444.9" r="1.55"/>
<circle cx="507.1" cy="448.1" r="1.55"/>
<circle cx="512.5" cy="442.3" r="1.55"/>
<circle cx="511.0" cy="445.8" r="1.55"/>
<circle cx="523.2" cy="441.1" r="1.55"/>
<circle cx="522.9" cy="442.6" r="1.55"/>
<circle cx="534.9" cy="438.8" r="1.55"/>
<circle cx="539.0" cy="442.8" r="1.55"/>
<circle cx="526.7" cy="446.7" r="1.55"/>
<circle cx="529.1" cy="448.5" r="1.55"/>
<circle cx="532.0" cy="447.5" r="1.55"/>
<circle cx="530.8" cy="450.4" r="1.55"/>
<circle cx="514.5" cy="449.9" r="1.55"/>
<circle cx="524.4" cy="451.8" r="1.55"/>
<circle cx="528.8" cy="454.5" r="1.55"/>
<circle cx="533.2" cy="457.1" r="1.55"/>
<circle cx="543.9" cy="451.4" r="1.55"/>
<circle cx="543.1" cy="458.8" r="1.55"/>
<circle cx="502.8" cy="453.4" r="1.55"/>
<circle cx="512.7" cy="453.9" r="1.55"/>
<circle cx="513.3" cy="455.1" r="1.55"/>
<circle cx="490.2" cy="457.1" r="1.55"/>
<circle cx="498.1" cy="458.4" r="1.55"/>
<circle cx="484.7" cy="458.4" r="1.55"/>
<circle cx="483.5" cy="460.9" r="1.55"/>
<circle cx="472.1" cy="461.9" r="1.55"/>
<circle cx="516.8" cy="458.0" r="1.55"/>
<circle cx="522.4" cy="457.4" r="1.55"/>
<circle cx="521.5" cy="460.4" r="1.55"/>
<circle cx="515.1" cy="461.9" r="1.55"/>
<circle cx="513.9" cy="464.7" r="1.55"/>
<circle cx="519.7" cy="463.3" r="1.55"/>
<circle cx="518.9" cy="466.0" r="1.55"/>
<circle cx="520.3" cy="469.5" r="1.55"/>
<circle cx="534.9" cy="466.2" r="1.55"/>
<circle cx="480.0" cy="470.1" r="1.55"/>
<circle cx="489.9" cy="471.8" r="1.55"/>
<circle cx="477.1" cy="477.9" r="1.55"/>
<circle cx="484.1" cy="480.0" r="1.55"/>
<circle cx="526.4" cy="473.8" r="1.55"/>
<circle cx="525.6" cy="476.7" r="1.55"/>
<circle cx="488.2" cy="489.8" r="1.55"/>
<circle cx="529.6" cy="492.5" r="1.55"/>
<circle cx="538.4" cy="431.2" r="1.55"/>
<circle cx="477.1" cy="431.4" r="1.55"/>
<circle cx="487.6" cy="430.6" r="1.55"/>
<circle cx="548.3" cy="432.7" r="1.55"/>
<circle cx="552.0" cy="436.7" r="1.55"/>
<circle cx="554.1" cy="438.3" r="1.55"/>
<circle cx="563.3" cy="434.9" r="1.55"/>
<circle cx="561.8" cy="438.8" r="1.55"/>
<circle cx="560.6" cy="441.6" r="1.55"/>
<circle cx="565.8" cy="442.5" r="1.55"/>
<circle cx="552.3" cy="448.8" r="1.55"/>
<circle cx="550.1" cy="454.5" r="1.55"/>
<circle cx="559.6" cy="458.0" r="1.55"/>
<circle cx="582.4" cy="440.4" r="1.55"/>
<circle cx="594.9" cy="437.0" r="1.55"/>
<circle cx="599.4" cy="438.0" r="1.55"/>
<circle cx="603.5" cy="441.4" r="1.55"/>
<circle cx="607.2" cy="445.7" r="1.55"/>
<circle cx="623.3" cy="458.0" r="1.55"/>
<circle cx="619.7" cy="460.7" r="1.55"/>
<circle cx="616.3" cy="462.9" r="1.55"/>
<circle cx="582.4" cy="467.2" r="1.55"/>
<circle cx="623.7" cy="470.2" r="1.55"/>
<circle cx="621.5" cy="476.2" r="1.55"/>
<circle cx="619.7" cy="481.9" r="1.55"/>
<circle cx="553.4" cy="473.5" r="1.55"/>
<circle cx="554.4" cy="431.2" r="1.55"/>
<circle cx="478.2" cy="326.7" r="1.55"/>
<circle cx="447.0" cy="365.3" r="1.55"/>
<circle cx="468.1" cy="367.0" r="1.55"/>
<circle cx="496.1" cy="363.7" r="1.55"/>
<circle cx="553.6" cy="367.0" r="1.55"/>
<circle cx="481.7" cy="442.9" r="1.55"/>
<circle cx="545.4" cy="407.2" r="1.55"/>
<circle cx="477.5" cy="446.2" r="1.55"/>
<circle cx="514.5" cy="425.6" r="1.55"/>
<circle cx="508.9" cy="433.2" r="1.55"/>
<circle cx="496.7" cy="429.9" r="1.55"/>
<circle cx="479.4" cy="424.0" r="1.55"/>
<circle cx="520.2" cy="412.2" r="1.55"/>
<circle cx="481.6" cy="433.1" r="1.55"/>
<circle cx="512.8" cy="422.7" r="1.55"/>
<circle cx="554.1" cy="418.8" r="1.55"/>
<circle cx="518.7" cy="424.9" r="1.55"/>
<circle cx="466.7" cy="406.8" r="1.55"/>
<circle cx="553.9" cy="412.3" r="1.55"/>
<circle cx="434.4" cy="424.9" r="1.55"/>
<circle cx="550.9" cy="418.3" r="1.55"/>
<circle cx="504.7" cy="424.8" r="1.55"/>
<circle cx="505.3" cy="431.1" r="1.55"/>
<circle cx="483.4" cy="404.6" r="1.55"/>
<circle cx="559.4" cy="422.1" r="1.55"/>
<circle cx="499.6" cy="414.9" r="1.55"/>
<circle cx="520.3" cy="424.4" r="1.55"/>
<circle cx="518.1" cy="435.9" r="1.55"/>
<circle cx="467.6" cy="416.5" r="1.55"/>
<circle cx="515.4" cy="459.3" r="1.55"/>
<circle cx="509.4" cy="445.3" r="1.55"/>
<circle cx="523.7" cy="406.4" r="1.55"/>
<circle cx="542.8" cy="407.0" r="1.55"/>
</g>
</g>
</svg></body></html>
